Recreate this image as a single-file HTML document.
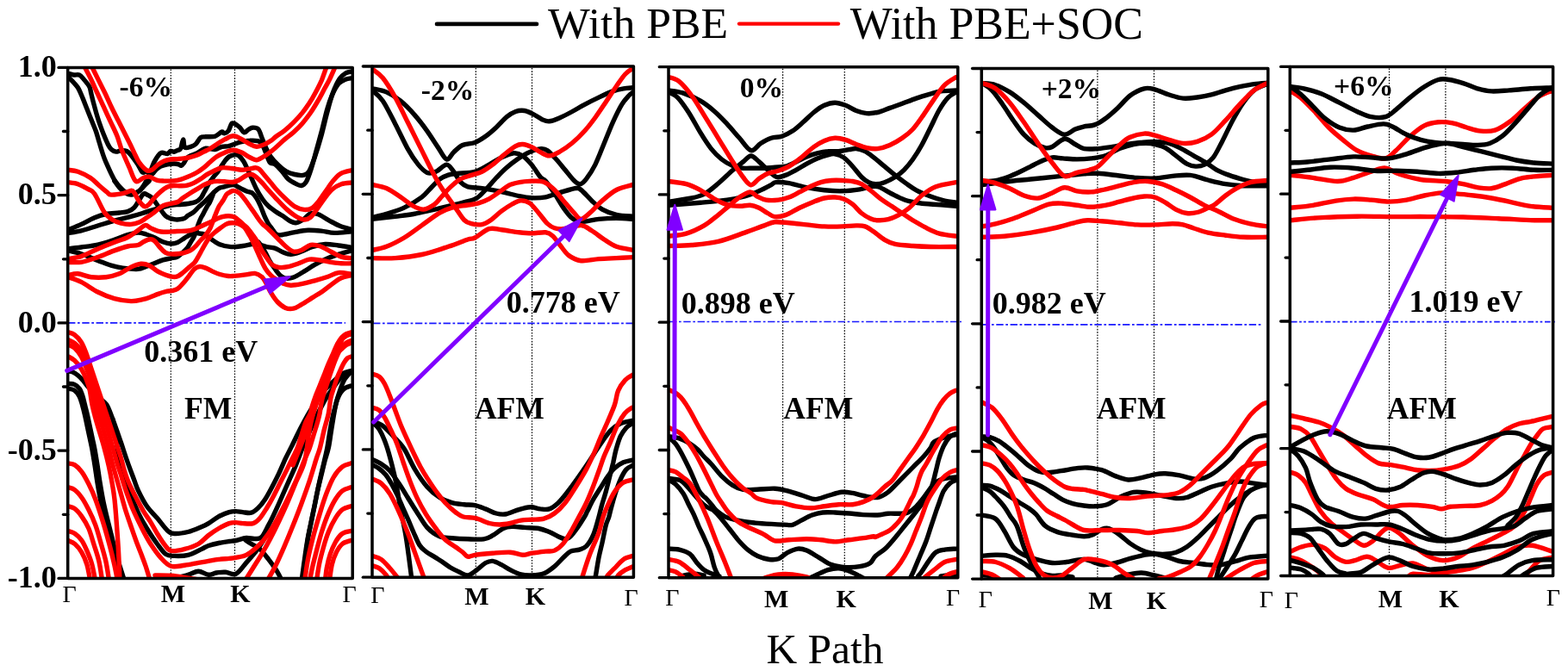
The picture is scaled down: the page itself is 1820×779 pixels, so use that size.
<!DOCTYPE html><html><head><meta charset="utf-8"><style>html,body{margin:0;padding:0;background:#fff;width:1820px;height:779px;overflow:hidden}svg{display:block}text{font-family:"Liberation Serif","Times New Roman",serif}</style></head><body>
<svg xmlns="http://www.w3.org/2000/svg" width="1820" height="779" viewBox="0 0 1820 779">
<rect width="1820" height="779" fill="#fff"/>
<defs>
<clipPath id="c0"><rect x="78.7" y="78.4" width="330.5" height="593.0"/></clipPath>
<clipPath id="c1"><rect x="432.0" y="77.0" width="303.4" height="593.2"/></clipPath>
<clipPath id="c2"><rect x="776.0" y="77.7" width="335.79999999999995" height="593.0"/></clipPath>
<clipPath id="c3"><rect x="1139.3" y="79.5" width="332.5" height="592.6"/></clipPath>
<clipPath id="c4"><rect x="1497.3" y="77.4" width="305.29999999999995" height="591.1"/></clipPath>
</defs>
<line x1="198.3" y1="80.4" x2="198.3" y2="669.4" stroke="#000" stroke-width="1.2" stroke-dasharray="1.6,1.7"/>
<line x1="272.5" y1="80.4" x2="272.5" y2="669.4" stroke="#000" stroke-width="1.2" stroke-dasharray="1.6,1.7"/>
<line x1="79" y1="374.9" x2="401" y2="374.9" stroke="#1a1aff" stroke-width="1.7" stroke-dasharray="8.4,2.6,2.7,2.6"/>
<line x1="552.3" y1="79.0" x2="552.3" y2="668.2" stroke="#000" stroke-width="1.2" stroke-dasharray="1.6,1.7"/>
<line x1="617.5" y1="79.0" x2="617.5" y2="668.2" stroke="#000" stroke-width="1.2" stroke-dasharray="1.6,1.7"/>
<line x1="433" y1="375.3" x2="736" y2="375.3" stroke="#1a1aff" stroke-width="1.7" stroke-dasharray="8.4,2.6,2.7,2.6"/>
<line x1="908.6" y1="79.7" x2="908.6" y2="668.7" stroke="#000" stroke-width="1.2" stroke-dasharray="1.6,1.7"/>
<line x1="980.3" y1="79.7" x2="980.3" y2="668.7" stroke="#000" stroke-width="1.2" stroke-dasharray="1.6,1.7"/>
<line x1="777" y1="373.5" x2="1116" y2="373.5" stroke="#1a1aff" stroke-width="1.7" stroke-dasharray="8.4,2.6,2.7,2.6"/>
<line x1="1273.9" y1="81.5" x2="1273.9" y2="670.1" stroke="#000" stroke-width="1.2" stroke-dasharray="1.6,1.7"/>
<line x1="1339.5" y1="81.5" x2="1339.5" y2="670.1" stroke="#000" stroke-width="1.2" stroke-dasharray="1.6,1.7"/>
<line x1="1140" y1="376.8" x2="1464" y2="376.8" stroke="#1a1aff" stroke-width="1.7" stroke-dasharray="8.4,2.6,2.7,2.6"/>
<line x1="1612.5" y1="79.4" x2="1612.5" y2="666.5" stroke="#000" stroke-width="1.2" stroke-dasharray="1.6,1.7"/>
<line x1="1677.9" y1="79.4" x2="1677.9" y2="666.5" stroke="#000" stroke-width="1.2" stroke-dasharray="1.6,1.7"/>
<line x1="1499" y1="373.6" x2="1807" y2="373.6" stroke="#1a1aff" stroke-width="1.7" stroke-dasharray="6.6,2.5,2.7,2.4,2.7,2.7"/>
<g clip-path="url(#c0)" fill="none" stroke-width="5.4" stroke-linecap="round" stroke-linejoin="round">
<path d="M79.8,90.0C80.8,91.0 83.9,93.9 85.7,96.0C87.5,98.1 89.1,99.4 90.8,102.4C92.5,105.4 94.3,109.8 96.0,113.9C97.7,118.0 99.4,122.5 101.1,126.8C102.8,131.1 104.5,135.3 106.2,139.6C107.9,143.9 109.9,148.2 111.4,152.5C112.9,156.8 113.9,161.1 115.2,165.3C116.5,169.6 117.8,174.1 119.1,178.0C120.4,181.9 120.8,183.5 123.1,188.6C125.4,193.7 129.6,203.5 132.8,208.8C136.0,214.1 139.6,217.7 142.4,220.4C145.2,223.1 146.7,224.9 149.9,225.2C153.1,225.4 158.2,224.2 161.4,221.9C164.6,219.6 166.9,215.2 169.1,211.5C171.2,207.8 172.6,204.1 174.3,200.0C176.0,195.9 177.4,190.9 179.5,187.2C181.6,183.5 184.1,179.1 186.6,177.7C189.1,176.2 192.4,178.9 194.3,178.5C196.2,178.1 196.8,175.8 198.1,175.4C199.4,175.0 200.7,176.3 202.0,176.2C203.3,176.1 204.5,175.2 205.8,174.6C207.1,174.0 208.6,174.6 209.7,172.5C210.8,170.4 211.8,162.2 212.6,162.0C213.4,161.8 213.1,169.6 214.5,171.0C215.9,172.4 219.2,170.9 221.3,170.3C223.4,169.7 225.2,169.2 227.1,167.4C229.0,165.6 231.0,161.1 232.9,159.7C234.8,158.3 235.9,159.1 238.7,158.8C241.5,158.6 246.6,159.2 249.7,158.2C252.8,157.2 255.6,153.6 257.4,153.0C259.2,152.4 259.0,155.1 260.3,154.9C261.6,154.7 263.7,153.9 265.1,152.0C266.6,150.1 267.6,144.6 269.0,143.3C270.4,142.0 272.2,143.5 273.8,144.3C275.4,145.1 277.0,146.6 278.6,148.2C280.2,149.8 281.8,153.5 283.4,153.9C285.0,154.3 286.6,151.4 288.2,150.5C289.8,149.6 291.1,148.3 293.0,148.2C294.9,148.1 297.9,147.9 299.8,150.1C301.7,152.3 303.0,157.8 304.6,161.6C306.2,165.4 307.8,169.8 309.4,173.2C311.0,176.6 311.9,178.8 314.2,181.9C316.4,185.0 319.8,188.6 322.9,191.5C325.9,194.4 329.3,197.4 332.5,199.2C335.7,201.0 338.9,201.8 342.1,202.5C345.3,203.2 349.0,204.0 351.7,203.4C354.4,202.8 356.2,202.6 358.5,199.2C360.8,195.8 362.8,189.7 365.2,182.8C367.6,175.9 370.5,166.5 372.9,157.8C375.3,149.1 377.4,139.2 379.7,130.8C381.9,122.5 384.0,114.3 386.4,107.7C388.8,101.1 391.5,95.2 394.1,91.4C396.7,87.6 399.5,86.0 401.8,84.6C404.1,83.2 407.0,83.3 408.0,83.1" stroke="#000000"/>
<path d="M79.8,85.5C80.8,85.8 83.7,86.8 85.7,87.0C87.8,87.2 90.2,86.2 92.1,87.0C94.0,87.8 95.4,89.8 97.3,92.1C99.2,94.3 102.3,97.9 103.7,100.5C105.1,103.1 104.8,104.2 105.6,107.5C106.4,110.8 107.6,115.9 108.8,120.4C110.0,124.9 111.4,130.2 112.7,134.5C114.0,138.8 115.2,142.4 116.5,146.0C117.8,149.6 118.9,152.7 120.4,156.3C121.9,160.0 124.0,165.0 125.5,167.9C127.0,170.8 127.8,172.1 129.3,173.5C130.8,174.9 132.8,175.9 134.7,176.1C136.6,176.3 138.4,174.8 140.5,174.7C142.6,174.6 145.3,174.6 147.2,175.5C149.1,176.4 149.9,177.4 152.0,179.9C154.1,182.4 157.5,187.2 159.7,190.5C161.9,193.8 163.6,198.6 165.3,200.0C167.0,201.4 168.4,198.5 170.0,199.0C171.6,199.5 173.1,203.4 175.0,203.1C176.9,202.8 179.3,198.7 181.2,197.0C183.1,195.3 184.4,194.1 186.6,193.1C188.8,192.1 191.7,191.3 194.3,190.8C196.9,190.3 199.8,190.0 202.0,190.0C204.2,190.0 206.0,190.4 207.4,190.8C208.8,191.2 209.4,192.6 210.4,192.3C211.4,192.1 212.5,190.7 213.5,189.3C214.5,187.9 215.3,185.3 216.6,183.9C217.9,182.5 219.1,181.8 221.2,180.8C223.2,179.8 226.0,179.1 228.9,177.7C231.8,176.3 235.2,172.9 238.7,172.2C242.2,171.5 246.6,173.9 249.7,173.6C252.8,173.3 254.8,171.0 257.4,170.3C260.0,169.7 262.5,170.2 265.1,169.7C267.7,169.1 270.2,167.9 272.8,167.0C275.4,166.1 277.6,165.1 280.5,164.5C283.4,163.9 287.1,163.3 290.1,163.2C293.2,163.0 296.6,163.0 298.8,163.6C301.1,164.2 302.0,164.3 303.6,166.5C305.2,168.7 306.8,173.3 308.4,177.0C310.0,180.7 311.4,186.3 313.2,188.6C315.0,190.8 316.8,188.9 319.0,190.5C321.2,192.1 324.1,195.3 326.7,198.2C329.3,201.1 331.8,205.4 334.4,207.8C337.0,210.2 339.5,211.4 342.1,212.7C344.7,214.0 347.6,215.8 349.8,215.5C352.1,215.2 353.7,214.1 355.6,210.7C357.5,207.3 359.5,201.2 361.4,195.3C363.3,189.4 365.0,182.6 367.1,175.1C369.2,167.6 371.8,158.1 373.9,150.1C376.0,142.1 377.8,133.6 379.7,127.0C381.6,120.4 383.2,115.6 385.4,110.6C387.6,105.6 390.5,100.1 393.1,97.1C395.7,94.0 398.3,93.3 400.8,92.3C403.3,91.2 406.8,91.0 408.0,90.8" stroke="#000000"/>
<path d="M132.8,210.0C133.8,211.3 136.3,215.3 138.5,217.7C140.7,220.1 143.6,223.1 146.2,224.4C148.8,225.8 151.3,226.3 153.9,225.8C156.5,225.3 159.0,223.6 161.6,221.6C164.2,219.6 167.4,215.8 169.3,213.9C171.2,212.0 172.5,210.7 173.2,210.0" stroke="#000000"/>
<path d="M78.9,266.8C81.5,265.7 89.2,262.8 94.3,260.4C99.4,258.0 104.9,254.7 109.7,252.7C114.5,250.7 118.3,249.4 123.1,248.5C127.9,247.6 134.3,247.5 138.5,247.0C142.7,246.5 145.3,246.6 148.2,245.6C151.1,244.6 153.7,243.1 155.9,240.8C158.1,238.6 159.8,234.7 161.6,232.1C163.4,229.5 165.0,225.9 166.6,225.0C168.2,224.1 169.6,225.5 171.3,226.4C173.0,227.3 174.8,227.8 177.0,230.2C179.2,232.6 182.1,237.4 184.7,240.8C187.3,244.2 189.5,248.5 192.4,250.8C195.3,253.1 198.9,254.2 202.3,254.7C205.7,255.2 210.4,254.6 213.0,253.9C215.6,253.2 216.0,251.7 218.0,250.3C220.0,249.0 223.1,247.5 225.2,245.8C227.3,244.2 228.8,242.0 230.5,240.4C232.2,238.8 233.6,237.8 235.5,236.1C237.4,234.3 239.6,232.0 241.7,229.9C243.8,227.8 245.8,225.6 247.9,223.7C250.0,221.8 251.8,219.8 254.0,218.6C256.2,217.4 258.8,217.2 261.2,216.6C263.6,216.0 266.2,215.2 268.1,214.9C270.0,214.6 270.8,214.4 272.4,214.9C273.9,215.4 275.1,216.5 277.4,217.7C279.7,218.9 283.6,220.9 286.2,222.0C288.8,223.1 291.2,223.0 293.1,224.3C295.0,225.7 296.2,227.6 297.8,230.1C299.4,232.6 300.9,235.8 302.4,239.3C303.9,242.8 305.5,247.5 307.0,250.9C308.5,254.3 310.2,257.6 311.6,260.0C313.0,262.4 313.9,263.0 315.4,265.0C316.9,267.0 318.9,270.8 320.8,272.1C322.7,273.4 323.1,273.1 326.7,272.7C330.2,272.3 337.0,270.5 342.1,269.6C347.2,268.7 352.4,267.6 357.5,267.3C362.6,267.1 367.8,267.6 372.9,268.1C378.0,268.6 382.5,270.3 388.3,270.4C394.1,270.5 404.3,269.1 407.5,268.9" stroke="#000000"/>
<path d="M78.9,270.6C81.5,270.1 88.5,269.2 94.3,267.8C100.1,266.4 107.1,263.9 113.5,262.0C119.9,260.1 126.4,258.0 132.8,256.2C139.2,254.4 146.6,252.8 152.0,251.4C157.4,250.0 161.7,248.7 165.5,247.5C169.3,246.3 171.0,245.5 175.1,244.3C179.2,243.1 185.8,241.4 189.9,240.3C194.1,239.2 196.8,238.5 200.0,238.0C203.2,237.5 206.0,237.8 209.0,237.5C212.0,237.2 215.0,237.0 218.0,236.5C221.0,236.0 224.5,235.6 227.0,234.5C229.5,233.4 231.4,231.8 233.0,230.0C234.6,228.2 235.4,225.9 236.5,224.0C237.6,222.1 238.5,220.4 239.5,218.5C240.5,216.6 241.3,214.7 242.7,212.5C244.1,210.3 246.2,207.5 247.9,205.3C249.6,203.1 251.6,201.1 253.0,199.1C254.4,197.1 255.2,195.6 256.6,193.5C258.0,191.4 259.7,188.5 261.2,186.6C262.7,184.7 263.9,183.1 265.8,181.9C267.7,180.7 270.5,179.8 272.4,179.6C274.3,179.4 275.3,179.2 277.0,180.5C278.7,181.8 281.0,184.6 282.7,187.3C284.4,190.0 285.8,193.3 287.4,196.6C288.9,199.9 290.3,203.2 292.0,207.0C293.7,210.8 295.7,215.7 297.8,219.7C299.9,223.7 302.4,227.9 304.7,231.2C307.0,234.5 308.9,236.8 311.6,239.3C314.3,241.8 318.2,244.3 320.9,246.2C323.6,248.1 325.3,248.8 328.0,250.6C330.7,252.4 334.2,255.5 336.9,256.8C339.6,258.1 341.4,259.1 344.1,258.6C346.8,258.2 350.4,255.9 353.1,254.1C355.8,252.3 357.6,248.8 360.3,247.9C363.0,247.0 365.7,247.5 369.3,248.8C372.9,250.1 377.6,253.7 381.8,255.9C386.0,258.1 389.9,260.4 394.4,262.2C398.9,264.0 406.4,265.9 408.8,266.7" stroke="#000000"/>
<path d="M78.9,288.9C81.5,288.6 88.5,287.8 94.3,287.0C100.1,286.2 107.1,285.6 113.5,284.1C119.9,282.7 127.0,280.2 132.8,278.3C138.6,276.4 143.6,274.0 148.2,272.6C152.8,271.2 156.5,270.2 160.1,270.1C163.7,270.0 166.3,271.1 169.5,272.0C172.7,272.9 175.9,274.4 179.2,275.8C182.4,277.2 185.8,279.5 189.0,280.7C192.2,281.9 195.6,282.9 198.4,283.0C201.2,283.1 203.5,282.5 206.1,281.4C208.7,280.3 211.2,278.2 213.8,276.6C216.4,275.0 219.2,273.1 221.5,272.0C223.8,270.9 225.9,270.3 227.5,270.1C229.1,269.9 229.5,270.7 231.1,271.0C232.7,271.3 234.8,271.1 236.9,272.0C239.0,272.9 240.8,274.7 243.7,276.6C246.6,278.5 250.2,281.8 254.3,283.5C258.4,285.2 263.6,286.3 268.2,286.6C272.8,286.9 277.6,286.1 282.0,285.5C286.4,284.9 291.0,283.4 294.4,283.2C297.8,283.0 299.5,283.7 302.1,284.3C304.7,284.9 307.0,286.0 309.8,286.6C312.6,287.2 315.9,287.1 319.0,288.1C322.1,289.1 325.1,291.5 328.2,292.7C331.3,293.9 333.9,295.4 337.5,295.3C341.1,295.2 345.7,293.4 349.8,292.0C353.9,290.6 357.5,288.0 362.1,286.6C366.7,285.2 372.4,283.8 377.5,283.5C382.6,283.2 387.9,284.4 392.9,285.0C397.9,285.6 405.1,286.9 407.5,287.3" stroke="#000000"/>
<path d="M78.9,290.9C81.5,291.5 88.5,292.8 94.3,294.7C100.1,296.6 107.7,300.1 113.5,302.4C119.3,304.6 124.1,306.8 128.9,308.2C133.7,309.6 137.2,310.4 142.4,311.1C147.6,311.8 155.6,312.7 160.1,312.4C164.6,312.1 166.3,310.6 169.5,309.5C172.7,308.4 175.9,307.0 179.2,305.7C182.4,304.4 185.8,302.8 189.0,301.8C192.2,300.8 195.6,300.5 198.4,299.9C201.2,299.3 203.8,299.1 206.1,298.0C208.4,296.9 210.2,295.0 212.1,293.2C214.0,291.4 216.1,289.4 217.7,287.4C219.3,285.4 220.3,283.1 221.5,281.0C222.7,278.9 224.0,277.0 225.0,275.0C226.0,273.0 226.7,271.3 227.5,269.0C228.3,266.7 229.1,263.6 230.0,261.0C230.9,258.4 232.1,255.5 233.0,253.5C233.9,251.5 234.6,250.8 235.5,249.0C236.4,247.2 237.8,244.6 238.6,243.0C239.4,241.4 239.7,240.8 240.5,239.5C241.3,238.2 242.5,236.8 243.4,235.0C244.3,233.2 245.2,230.9 246.0,229.0C246.8,227.1 247.6,224.6 247.9,223.7" stroke="#000000"/>
<path d="M300.0,281.0C300.6,281.8 302.2,283.7 303.6,285.8C305.0,287.9 306.7,290.7 308.2,293.5C309.7,296.3 311.0,299.6 312.8,302.7C314.6,305.8 316.9,309.2 319.0,312.0C321.1,314.8 323.1,317.8 325.2,319.7C327.2,321.6 328.7,322.7 331.3,323.1C333.9,323.5 337.0,323.3 340.6,322.0C344.2,320.7 348.8,317.5 352.9,315.1C357.0,312.7 360.6,310.0 365.2,307.4C369.8,304.8 375.5,301.9 380.6,299.7C385.7,297.5 391.5,295.7 396.0,294.3C400.5,292.9 405.6,291.7 407.5,291.2" stroke="#000000"/>
<path d="M98.3,77.9C99.4,80.1 102.6,85.9 105.0,90.8C107.4,95.7 110.1,101.9 112.7,107.5C115.3,113.1 117.8,118.6 120.4,124.2C123.0,129.8 125.5,135.3 128.1,140.9C130.7,146.5 133.7,152.2 135.8,157.6C137.9,162.9 139.3,168.6 140.9,173.0C142.5,177.4 144.0,180.4 145.5,184.0C147.0,187.6 148.1,190.0 150.1,194.4C152.1,198.8 154.8,208.3 157.6,210.3C160.3,212.3 164.0,207.3 166.6,206.5C169.2,205.7 170.3,204.7 173.0,205.2C175.7,205.7 179.8,208.5 182.7,209.3C185.6,210.1 187.8,210.0 190.4,210.1C193.0,210.2 195.5,210.2 198.1,210.1C200.7,210.0 203.2,209.8 205.8,209.3C208.4,208.8 210.9,207.9 213.5,207.0C216.1,206.1 218.6,205.1 221.2,203.9C223.8,202.7 226.3,201.5 228.9,200.0C231.5,198.5 234.0,196.8 236.6,194.7C239.2,192.6 241.7,189.9 244.3,187.7C246.9,185.5 249.2,183.4 252.0,181.6C254.8,179.8 258.2,178.2 261.3,177.0C264.4,175.8 267.7,174.2 270.9,174.2C274.1,174.2 277.3,175.6 280.5,177.0C283.7,178.4 287.2,181.4 290.1,182.8C293.0,184.2 294.9,186.0 297.8,185.7C300.7,185.4 304.0,183.2 307.5,180.9C311.0,178.7 315.2,175.4 319.0,172.2C322.8,169.0 326.7,165.0 330.3,161.9C333.9,158.8 337.1,156.8 340.5,153.7C343.9,150.6 347.4,147.3 350.8,143.4C354.2,139.5 358.0,134.4 361.1,130.0C364.2,125.5 366.7,121.2 369.3,116.7C371.9,112.2 374.3,107.4 376.5,103.3C378.7,99.2 380.6,96.1 382.6,92.1C384.6,88.0 387.5,81.2 388.5,79.0" stroke="#ff0000"/>
<path d="M106.9,77.9C108.1,80.3 111.5,87.2 113.9,92.1C116.4,97.0 119.0,102.2 121.6,107.5C124.2,112.8 126.7,118.9 129.3,124.2C131.9,129.6 134.4,134.5 137.0,139.6C139.6,144.7 142.2,149.9 144.8,155.0C147.4,160.1 150.5,166.2 152.5,170.4C154.5,174.6 155.5,177.0 157.0,180.0C158.5,183.0 159.3,185.6 161.6,188.6C163.8,191.6 168.0,196.4 170.5,197.8C173.0,199.2 174.8,197.9 176.8,196.9C178.8,195.9 180.4,193.3 182.7,191.6C185.0,189.9 187.8,188.0 190.4,186.9C193.0,185.8 195.5,185.4 198.1,185.0C200.7,184.6 203.2,184.8 205.8,184.6C208.4,184.4 210.9,184.3 213.5,183.9C216.1,183.5 218.6,183.0 221.2,182.3C223.8,181.7 226.3,181.0 228.9,180.0C231.5,179.0 234.0,177.5 236.6,176.2C239.2,174.9 241.8,173.8 244.3,172.3C246.8,170.8 248.8,169.2 251.6,167.4C254.4,165.6 258.1,163.2 261.3,161.6C264.5,160.0 267.7,157.8 270.9,157.8C274.1,157.8 277.3,160.0 280.5,161.6C283.7,163.2 287.2,165.9 290.1,167.4C293.0,168.9 294.9,170.3 297.8,170.3C300.7,170.3 304.6,168.6 307.5,167.4C310.4,166.2 312.9,164.4 315.0,163.0C317.1,161.6 317.4,160.7 320.0,158.8C322.6,156.9 326.9,154.3 330.3,151.6C333.7,148.9 337.1,145.8 340.5,142.4C343.9,139.0 347.7,134.9 350.8,131.1C353.9,127.3 356.4,123.7 359.0,119.8C361.6,115.9 363.8,112.0 366.2,107.5C368.6,103.0 371.3,97.8 373.4,93.1C375.4,88.3 377.6,81.3 378.5,79.0" stroke="#ff0000"/>
<path d="M78.9,197.3C80.8,197.6 86.1,197.7 90.4,199.2C94.8,200.7 100.9,203.8 105.0,206.5C109.1,209.2 112.0,212.7 115.2,215.5C118.4,218.3 122.0,221.4 124.3,223.2C126.6,225.0 125.7,225.9 128.9,226.1C132.1,226.3 139.6,225.2 143.5,224.4C147.4,223.6 150.5,221.2 152.6,221.2C154.7,221.2 154.7,222.3 156.2,224.4C157.7,226.5 159.4,230.9 161.4,233.5C163.4,236.1 166.1,239.2 168.0,239.8C169.9,240.4 171.2,238.9 173.0,237.3C174.8,235.7 176.6,232.5 178.9,230.0C181.2,227.5 184.0,224.6 186.6,222.4C189.2,220.2 191.7,218.2 194.3,217.0C196.9,215.8 199.4,215.7 202.0,215.5C204.6,215.3 207.1,215.9 209.7,215.8C212.3,215.7 214.8,215.7 217.4,215.1C220.0,214.5 222.5,213.6 225.1,212.4C227.7,211.2 230.2,209.5 232.8,207.8C235.4,206.1 237.9,204.0 240.5,202.4C243.1,200.8 245.4,199.8 248.2,198.5C251.0,197.2 253.9,195.3 257.3,194.8C260.8,194.3 265.0,195.1 268.9,195.5C272.8,195.9 277.1,197.1 280.4,197.2C283.7,197.3 285.8,196.6 288.5,196.2C291.2,195.8 294.5,194.7 296.6,194.8C298.7,194.9 299.5,195.2 301.2,196.6C302.9,198.0 304.9,201.0 307.0,203.5C309.1,206.0 311.6,208.8 313.9,211.6C316.2,214.3 317.9,216.8 320.8,220.0C323.7,223.2 327.9,227.5 331.5,230.8C335.1,234.1 338.7,237.7 342.3,239.8C345.9,241.9 349.8,243.1 353.1,243.4C356.4,243.7 359.4,243.1 362.1,241.6C364.8,240.1 366.6,237.7 369.3,234.4C372.0,231.1 375.2,226.0 378.2,221.8C381.2,217.6 384.2,212.7 387.2,209.3C390.2,205.9 392.6,203.1 396.2,201.2C399.8,199.2 406.7,198.2 408.8,197.6" stroke="#ff0000"/>
<path d="M78.9,211.7C80.8,212.0 86.6,212.4 90.4,213.7C94.2,215.0 98.8,217.5 102.0,219.4C105.2,221.3 106.5,220.5 109.7,225.0C112.9,229.5 117.7,241.6 121.2,246.6C124.7,251.6 127.6,253.1 130.8,255.2C134.0,257.3 137.0,258.2 140.5,259.1C144.0,260.0 148.5,260.6 152.0,260.4C155.5,260.2 158.7,259.3 161.6,258.1C164.5,256.9 166.4,255.2 169.3,253.3C172.2,251.4 175.6,249.1 179.0,246.6C182.4,244.1 185.4,240.5 189.9,238.5C194.4,236.5 202.2,236.0 205.9,234.6C209.6,233.2 209.4,231.8 212.0,230.0C214.6,228.2 218.4,225.7 221.2,223.9C224.0,222.1 226.3,220.8 228.9,219.3C231.5,217.8 234.0,216.0 236.6,214.7C239.2,213.4 241.7,212.3 244.3,211.6C246.9,210.9 249.2,210.5 252.0,210.4C254.8,210.3 257.8,210.6 260.8,210.8C263.8,211.0 267.3,211.8 270.0,211.5C272.7,211.2 274.3,210.6 277.0,209.3C279.7,208.0 283.7,204.7 286.2,203.5C288.7,202.3 290.1,201.9 292.0,202.3C293.9,202.7 295.7,204.1 297.8,205.8C299.9,207.5 302.4,210.2 304.7,212.7C307.0,215.2 308.9,217.8 311.6,220.8C314.3,223.8 317.2,227.0 320.8,230.8C324.4,234.6 329.4,240.0 333.3,243.4C337.2,246.8 340.8,249.6 344.1,251.5C347.4,253.4 350.4,254.8 353.1,255.0C355.8,255.2 357.9,254.3 360.3,252.4C362.7,250.5 364.8,247.0 367.5,243.4C370.2,239.8 373.4,234.7 376.4,230.8C379.4,226.9 382.1,222.8 385.4,220.0C388.7,217.2 392.3,215.0 396.2,213.7C400.1,212.4 406.7,212.3 408.8,212.0" stroke="#ff0000"/>
<path d="M78.9,300.5C81.5,300.0 88.5,299.5 94.3,297.6C100.1,295.7 107.1,291.6 113.5,288.9C119.9,286.2 127.0,283.4 132.8,281.2C138.6,279.0 143.7,277.7 148.2,275.5C152.7,273.3 156.3,270.1 159.7,267.8C163.1,265.5 165.8,262.1 168.4,261.6C171.0,261.1 172.7,263.8 175.1,264.9C177.5,266.0 180.3,267.4 182.8,268.1C185.3,268.8 186.2,269.2 189.9,269.3C193.7,269.4 200.6,268.7 205.3,268.5C210.0,268.3 214.6,268.4 218.0,268.0C221.4,267.6 223.2,267.0 226.0,266.0C228.8,265.0 232.0,263.4 235.0,262.0C238.0,260.6 241.2,259.2 244.0,257.9C246.8,256.6 249.2,255.1 251.6,254.0C254.0,252.9 256.0,252.2 258.3,251.6C260.6,251.0 263.2,250.6 265.5,250.7C267.8,250.8 269.9,251.0 272.0,252.0C274.1,253.0 276.2,255.0 278.1,256.6C280.0,258.2 281.8,259.9 283.5,261.5C285.2,263.1 286.6,264.2 288.2,266.0C289.8,267.8 291.0,269.5 292.8,272.0C294.6,274.5 297.2,277.9 299.0,281.0C300.8,284.1 301.8,287.3 303.6,290.4C305.4,293.5 307.8,296.9 309.8,299.7C311.9,302.5 313.6,305.6 315.9,307.4C318.2,309.2 320.5,310.0 323.6,310.4C326.7,310.8 330.5,310.5 334.4,309.7C338.2,308.9 342.6,307.2 346.7,305.8C350.8,304.4 354.9,301.8 359.0,301.2C363.1,300.6 367.3,301.5 371.4,302.0C375.5,302.5 379.6,303.7 383.7,304.3C387.8,304.9 392.0,305.6 396.0,305.8C400.0,306.1 405.6,305.8 407.5,305.8" stroke="#ff0000"/>
<path d="M78.9,304.3C81.5,304.3 88.5,305.2 94.3,304.3C100.1,303.4 107.1,300.8 113.5,298.6C119.9,296.4 127.0,293.0 132.8,290.9C138.6,288.8 143.6,287.1 148.2,286.0C152.8,284.9 157.0,285.4 160.1,284.5C163.2,283.6 164.2,281.8 166.6,280.7C169.0,279.6 172.2,278.0 174.3,277.8C176.4,277.6 177.4,278.1 179.2,279.5C181.0,280.9 182.8,284.1 184.9,286.4C187.0,288.7 189.7,291.8 191.9,293.2C194.2,294.6 195.7,294.7 198.4,294.9C201.1,295.1 205.4,294.8 208.0,294.5C210.6,294.2 211.8,294.0 214.0,293.4C216.2,292.8 218.9,292.0 221.2,290.7C223.4,289.4 225.6,287.2 227.5,285.3C229.4,283.4 231.1,280.9 232.9,279.0C234.7,277.1 236.4,275.9 238.2,273.6C240.0,271.3 242.0,268.9 243.9,265.0C245.8,261.1 248.0,254.3 249.7,250.1C251.4,245.9 252.5,242.9 254.0,240.0C255.5,237.1 257.4,235.2 258.9,232.8C260.4,230.4 261.8,227.1 263.1,225.5C264.5,223.9 265.6,223.7 267.0,223.0C268.4,222.3 269.3,221.2 271.2,221.4C273.1,221.6 276.0,222.7 278.1,224.3C280.2,225.9 282.0,228.7 283.9,231.2C285.8,233.7 287.8,236.6 289.7,239.3C291.6,242.0 293.8,244.9 295.5,247.4C297.2,249.9 298.6,252.2 300.1,254.3C301.6,256.4 302.8,258.1 304.7,260.0C306.6,261.9 308.4,263.0 311.3,265.8C314.2,268.6 318.8,273.3 322.1,276.6C325.4,279.9 328.2,283.2 331.3,285.8C334.4,288.4 337.5,291.2 340.6,292.0C343.7,292.8 346.5,291.7 349.8,290.4C353.1,289.1 357.0,285.1 360.6,284.3C364.2,283.5 367.5,284.5 371.3,285.8C375.1,287.1 379.6,289.9 383.7,292.0C387.8,294.1 392.0,296.8 396.0,298.1C400.0,299.4 405.6,299.4 407.5,299.7" stroke="#ff0000"/>
<path d="M78.9,319.7C80.8,319.4 85.9,317.5 90.4,317.8C94.9,318.1 100.3,321.1 105.8,321.7C111.2,322.3 117.6,322.3 123.1,321.7C128.5,321.1 133.7,319.7 138.5,317.8C143.3,315.9 147.8,312.0 152.0,310.1C156.2,308.2 160.1,306.6 163.6,306.3C167.1,306.0 170.0,306.8 173.2,308.2C176.4,309.6 179.7,313.1 182.8,314.9C185.9,316.7 189.2,318.1 191.8,319.1C194.4,320.1 196.2,320.6 198.4,321.0C200.6,321.4 202.7,321.9 205.0,321.2C207.3,320.5 209.8,318.5 212.2,316.7C214.6,314.9 217.2,312.3 219.4,310.4C221.7,308.4 223.9,307.1 225.7,305.0C227.5,302.9 228.7,300.4 230.2,297.9C231.7,295.4 233.1,292.5 234.6,289.8C236.1,287.1 237.6,284.1 239.1,281.7C240.6,279.3 241.9,277.3 243.6,275.4C245.2,273.4 247.0,271.7 249.0,270.0C251.0,268.3 253.2,266.6 255.4,265.0C257.6,263.4 260.2,261.5 262.0,260.5C263.8,259.5 264.4,259.3 266.0,259.0C267.6,258.7 269.4,258.6 271.3,258.8C273.2,259.0 275.3,259.1 277.4,260.0C279.4,260.9 281.6,261.8 283.6,264.0C285.7,266.2 287.6,269.9 289.7,273.5C291.8,277.1 293.8,281.4 295.9,285.8C298.0,290.2 300.1,295.3 302.1,299.7C304.2,304.1 306.1,308.7 308.2,312.0C310.2,315.3 312.3,317.6 314.4,319.7C316.4,321.8 318.2,322.8 320.5,324.3C322.8,325.8 325.4,327.8 328.2,328.9C331.0,330.0 333.9,331.1 337.5,331.2C341.1,331.3 345.2,330.6 349.8,329.7C354.4,328.8 360.1,327.2 365.2,325.8C370.3,324.4 376.0,322.7 380.6,321.2C385.2,319.7 388.4,317.1 392.9,316.6C397.4,316.1 405.1,317.9 407.5,318.1" stroke="#ff0000"/>
<path d="M78.9,321.7C81.5,322.6 88.5,324.5 94.3,327.4C100.1,330.3 107.1,335.8 113.5,339.0C119.9,342.2 126.4,344.9 132.8,346.7C139.2,348.5 146.6,349.4 152.0,349.6C157.4,349.8 161.8,348.5 165.5,347.7C169.2,346.9 171.2,346.1 174.3,345.0C177.4,343.9 180.9,342.2 184.2,341.1C187.4,340.0 191.1,338.8 193.8,338.2C196.5,337.6 198.2,337.8 200.3,337.3C202.4,336.8 204.1,336.6 206.1,335.3C208.1,334.0 210.0,331.8 212.2,329.3C214.4,326.8 217.2,323.2 219.4,320.3C221.7,317.4 223.6,314.0 225.7,312.2C227.8,310.4 229.8,309.6 232.0,309.5C234.2,309.4 236.7,310.4 239.1,311.3C241.5,312.2 243.6,313.7 246.3,314.9C249.0,316.1 252.2,317.6 255.3,318.5C258.4,319.4 262.3,320.2 265.0,320.5C267.7,320.8 267.9,320.7 271.3,320.4C274.7,320.1 281.0,319.4 285.1,318.9C289.2,318.4 292.8,317.0 295.9,317.4C299.0,317.8 301.6,319.5 303.6,321.2C305.7,322.9 306.4,324.3 308.2,327.4C310.0,330.5 312.1,335.8 314.4,339.7C316.7,343.6 319.3,347.6 322.1,350.5C324.9,353.4 328.2,356.1 331.3,357.4C334.4,358.7 337.5,358.8 340.6,358.2C343.7,357.6 346.2,355.7 349.8,353.6C353.4,351.6 358.0,348.5 362.1,345.9C366.2,343.3 370.3,341.0 374.4,338.2C378.5,335.4 383.1,331.5 386.7,328.9C390.3,326.3 392.5,324.3 396.0,322.8C399.5,321.3 405.6,320.2 407.5,319.7" stroke="#ff0000"/>
<path d="M78.9,431.0C79.9,431.2 82.7,431.2 84.6,432.0C86.5,432.8 88.5,434.2 90.4,435.8C92.3,437.4 94.3,439.4 96.2,441.6C98.1,443.8 100.0,446.8 102.0,449.0C104.0,451.2 106.0,453.0 108.0,455.0C110.0,457.0 112.0,459.2 114.0,461.0C116.0,462.8 118.2,464.2 120.0,466.0C121.8,467.8 123.2,468.5 125.0,472.0C126.8,475.5 129.2,482.2 131.0,487.0C132.8,491.8 134.3,496.2 136.0,501.0C137.7,505.8 139.4,510.8 141.2,516.0C142.9,521.2 144.8,527.0 146.5,532.0C148.2,537.0 149.9,541.7 151.5,546.0C153.1,550.3 154.5,554.0 156.0,558.0C157.5,562.0 158.2,564.8 160.6,569.8C163.0,574.8 166.8,582.4 170.5,587.7C174.2,593.0 178.5,596.9 182.5,601.6C186.5,606.3 191.1,613.0 194.4,616.0C197.7,619.0 198.4,619.2 202.4,619.5C206.4,619.8 213.0,618.8 218.3,617.5C223.6,616.2 230.2,613.2 234.2,611.6C238.1,610.0 238.7,609.6 242.0,607.6C245.3,605.6 249.9,601.8 253.9,599.6C257.9,597.4 262.6,595.6 265.9,594.6C269.2,593.6 271.1,593.6 273.8,593.6C276.5,593.6 278.8,594.3 281.8,594.6C284.8,594.9 288.8,596.0 291.8,595.2C294.8,594.4 297.1,592.3 299.7,589.7C302.3,587.1 305.0,583.7 307.7,579.7C310.4,575.7 313.0,570.8 315.6,565.8C318.2,560.8 320.9,555.5 323.6,549.9C326.3,544.2 329.2,537.1 331.6,531.9C334.1,526.7 335.4,524.4 338.3,518.6C341.2,512.8 345.7,503.4 348.8,497.3C351.9,491.2 354.3,486.8 357.0,482.0C359.7,477.2 362.5,472.8 365.2,468.6C367.9,464.4 370.3,460.4 373.0,457.0C375.7,453.6 378.8,450.8 381.6,448.0C384.4,445.2 387.3,442.4 390.0,440.0C392.7,437.6 395.1,435.3 398.0,433.7C400.9,432.1 406.0,431.0 407.6,430.5" stroke="#000000"/>
<path d="M78.9,445.5C80.2,445.6 84.4,445.4 86.6,446.4C88.8,447.3 90.7,448.9 92.3,451.2C93.9,453.5 95.0,456.9 96.0,460.0C97.0,463.1 97.6,466.3 98.5,470.0C99.4,473.7 100.5,477.7 101.5,482.0C102.5,486.3 103.5,491.3 104.5,496.0C105.5,500.7 106.6,505.7 107.5,510.0C108.4,514.3 109.1,517.0 110.0,522.0C110.9,527.0 112.0,533.7 113.0,540.0C114.0,546.3 114.9,553.3 116.0,560.0C117.1,566.7 118.2,573.3 119.5,580.0C120.8,586.7 122.4,593.3 124.0,600.0C125.6,606.7 127.3,613.3 129.0,620.0C130.7,626.7 132.3,633.8 134.0,640.0C135.7,646.2 137.2,651.2 139.0,657.0C140.8,662.8 143.8,672.0 144.7,675.0" stroke="#000000"/>
<path d="M78.9,451.2C80.2,451.5 84.4,451.7 86.6,453.2C88.8,454.7 90.5,457.2 92.0,460.0C93.5,462.8 94.4,466.3 95.5,470.0C96.6,473.7 97.5,477.7 98.5,482.0C99.5,486.3 100.5,491.3 101.5,496.0C102.5,500.7 103.6,505.7 104.5,510.0C105.4,514.3 106.1,517.0 107.0,522.0C107.9,527.0 109.0,533.7 110.0,540.0C111.0,546.3 111.9,553.3 113.0,560.0C114.1,566.7 115.2,573.3 116.5,580.0C117.8,586.7 119.4,593.3 121.0,600.0C122.6,606.7 124.3,613.3 126.0,620.0C127.7,626.7 129.3,633.8 131.0,640.0C132.7,646.2 134.2,651.2 136.0,657.0C137.8,662.8 140.6,672.0 141.5,675.0" stroke="#000000"/>
<path d="M140.7,545.9C142.3,550.2 147.3,563.5 150.6,571.8C153.9,580.1 157.3,588.6 160.6,595.6C163.9,602.6 166.8,607.5 170.5,613.5C174.2,619.5 178.8,626.5 182.5,631.5C186.2,636.5 189.1,641.1 192.4,643.4C195.7,645.7 198.1,645.2 202.4,645.4C206.7,645.6 213.0,645.7 218.3,644.4C223.6,643.1 230.2,639.2 234.2,637.4C238.1,635.6 238.7,634.6 242.0,633.5C245.3,632.4 249.9,631.3 253.9,630.5C257.9,629.7 262.6,629.0 265.9,628.5C269.2,628.0 270.5,628.2 273.8,627.5C277.1,626.8 282.2,624.8 285.8,624.5C289.4,624.2 292.7,625.7 295.7,625.5C298.7,625.3 301.0,626.1 303.7,623.5C306.4,620.9 309.0,614.6 311.7,609.6C314.4,604.6 317.0,599.2 319.6,593.6C322.2,588.0 325.0,581.7 327.6,575.7C330.2,569.7 332.9,563.8 335.5,557.8C338.1,551.8 340.8,546.4 343.5,539.9C346.2,533.4 349.4,524.4 351.7,518.6C354.0,512.8 355.2,510.2 357.5,505.1C359.8,500.0 362.6,493.2 365.2,487.8C367.8,482.4 370.3,477.2 372.9,472.4C375.5,467.6 377.7,463.4 380.6,458.9C383.5,454.4 387.3,449.4 390.2,445.5C393.1,441.6 395.1,438.0 398.0,435.8C400.9,433.6 406.0,433.1 407.6,432.5" stroke="#000000"/>
<path d="M131.0,487.0C131.5,490.0 133.0,498.7 134.0,505.0C135.0,511.3 135.9,518.2 137.0,525.0C138.1,531.8 140.1,542.4 140.7,545.9" stroke="#000000"/>
<path d="M200.0,672.0C203.1,671.2 213.2,668.8 218.3,667.3C223.4,665.8 226.4,663.3 230.3,663.3C234.2,663.3 238.6,667.0 242.0,667.3C245.4,667.6 247.7,665.5 251.0,665.0C254.3,664.5 258.1,664.1 261.9,664.3C265.7,664.5 269.8,668.1 273.8,666.3C277.8,664.5 281.8,657.9 285.8,653.4C289.8,648.9 294.4,643.7 297.7,639.4C301.0,635.1 304.4,629.5 305.7,627.5" stroke="#000000"/>
<path d="M285.0,627.0C286.1,627.8 289.0,629.8 291.8,631.5C294.6,633.2 298.4,634.4 301.7,637.4C305.0,640.4 308.4,645.1 311.7,649.4C315.0,653.7 319.0,659.0 321.6,663.3C324.2,667.6 326.6,673.0 327.6,675.0" stroke="#000000"/>
<path d="M407.6,431.3C406.2,433.0 401.5,437.7 399.3,441.6C397.1,445.5 395.7,450.2 394.2,454.5C392.7,458.8 391.4,463.1 390.3,467.3C389.2,471.6 388.8,474.6 387.8,480.0C386.8,485.4 385.6,493.3 384.5,500.0C383.4,506.7 382.6,514.2 381.3,520.0C380.1,525.8 378.3,530.0 377.0,535.0C375.7,540.0 374.7,544.4 373.4,549.9C372.1,555.4 370.3,562.0 369.0,568.0C367.7,574.0 366.6,579.5 365.4,585.7C364.1,591.9 362.8,598.4 361.5,605.0C360.2,611.6 358.6,618.0 357.4,625.5C356.2,633.0 355.5,641.8 354.5,650.0C353.5,658.2 352.0,670.8 351.5,675.0" stroke="#000000"/>
<path d="M407.0,448.0C405.9,448.4 402.5,449.3 400.6,450.6C398.7,451.9 397.0,453.6 395.5,455.7C394.0,457.8 392.7,460.6 391.6,463.4C390.5,466.2 389.9,469.3 389.0,472.4C388.1,475.5 387.5,477.4 386.5,482.0C385.5,486.6 384.1,493.7 383.0,500.0C381.9,506.3 381.0,513.8 379.8,520.0C378.6,526.2 377.2,531.7 376.0,537.0C374.8,542.3 373.6,546.5 372.4,552.0C371.1,557.5 369.8,564.0 368.5,570.0C367.2,576.0 366.2,581.8 364.9,588.0C363.6,594.2 362.2,600.5 360.9,607.0C359.6,613.5 358.1,619.8 356.9,627.0C355.6,634.2 354.5,642.0 353.4,650.0C352.2,658.0 350.6,670.8 350.0,675.0" stroke="#000000"/>
<path d="M78.9,385.8C80.2,386.3 84.0,386.8 86.6,388.7C89.2,390.6 92.1,393.8 94.3,397.3C96.5,400.9 98.2,405.4 100.0,410.0C101.8,414.6 103.3,420.0 105.0,425.0C106.7,430.0 108.3,435.0 110.0,440.0C111.7,445.0 113.3,450.0 115.0,455.0C116.7,460.0 118.3,465.0 120.0,470.0C121.7,475.0 123.3,480.0 125.0,485.0C126.7,490.0 128.3,495.0 130.0,500.0C131.7,505.0 133.3,510.0 135.0,515.0C136.7,520.0 138.5,525.0 140.0,530.0C141.5,535.0 142.7,540.5 144.0,545.0C145.3,549.5 146.5,553.2 148.0,557.0C149.5,560.8 151.2,564.3 153.0,568.0C154.8,571.7 156.3,574.7 158.6,579.0C160.9,583.3 163.9,589.2 166.6,593.6C169.2,598.0 171.8,601.3 174.5,605.6C177.2,609.9 179.8,615.2 182.5,619.5C185.2,623.8 187.8,628.2 190.4,631.5C193.1,634.8 194.4,638.4 198.4,639.4C202.4,640.4 209.0,638.7 214.3,637.4C219.6,636.1 225.7,634.1 230.3,631.5C234.9,628.9 238.1,624.5 242.0,621.5C245.9,618.5 249.9,615.8 253.9,613.5C257.9,611.2 262.6,608.8 265.9,607.6C269.2,606.5 271.1,606.6 273.8,606.6C276.5,606.6 278.5,607.4 281.8,607.6C285.1,607.8 290.5,608.6 293.8,607.6C297.1,606.6 299.1,604.6 301.7,601.6C304.3,598.6 307.0,594.0 309.7,589.7C312.4,585.4 315.0,580.7 317.6,575.7C320.2,570.7 322.9,565.1 325.6,559.8C328.3,554.5 331.0,549.2 333.6,543.9C336.2,538.6 339.4,532.3 341.5,528.0C343.6,523.7 344.6,521.8 346.0,518.0C347.4,514.2 348.5,509.7 350.0,505.0C351.5,500.3 353.3,494.2 355.0,490.0C356.7,485.8 359.0,482.9 360.2,480.0C361.4,477.1 361.2,475.6 362.1,472.4C363.1,469.2 364.4,465.0 365.9,460.9C367.4,456.8 369.4,452.3 371.1,448.0C372.8,443.7 374.5,439.5 376.2,435.2C377.9,430.9 379.6,426.5 381.3,422.4C383.0,418.3 384.8,414.6 386.5,410.8C388.2,407.0 389.9,402.5 391.6,399.3C393.3,396.1 395.1,393.5 396.8,391.6C398.5,389.7 400.1,388.7 401.9,387.7C403.7,386.7 406.7,386.1 407.7,385.8" stroke="#ff0000"/>
<path d="M78.9,394.4C80.2,395.0 84.0,396.2 86.6,398.3C89.2,400.4 92.1,403.4 94.3,407.0C96.5,410.6 98.2,415.5 100.0,420.0C101.8,424.5 103.3,429.3 105.0,434.0C106.7,438.7 108.2,442.0 110.0,448.0C111.8,454.0 114.2,463.5 116.0,470.0C117.8,476.5 119.3,481.5 121.0,487.0C122.7,492.5 124.3,497.5 126.0,503.0C127.7,508.5 129.3,514.2 131.0,520.0C132.7,525.8 134.5,533.0 136.0,538.0C137.5,543.0 138.8,546.3 140.0,550.0C141.2,553.7 141.8,556.3 143.0,560.0C144.2,563.7 145.1,566.7 147.0,572.0C148.9,577.3 151.7,585.2 154.6,592.0C157.5,598.8 161.3,606.5 164.6,613.0C167.9,619.5 170.8,625.3 174.5,631.0C178.2,636.7 182.5,643.0 186.5,647.4C190.5,651.8 193.8,655.8 198.4,657.3C203.0,658.8 209.0,656.9 214.3,656.3C219.6,655.6 225.7,654.2 230.3,653.4C234.9,652.6 238.1,652.1 242.0,651.4C245.9,650.7 249.9,649.9 253.9,649.4C257.9,648.9 262.6,648.7 265.9,648.4C269.2,648.1 270.5,648.1 273.8,647.4C277.1,646.7 282.2,646.1 285.8,644.4C289.4,642.7 292.4,640.2 295.7,637.4C299.0,634.6 302.4,631.5 305.7,627.5C309.0,623.5 312.3,618.8 315.6,613.5C318.9,608.2 322.3,601.9 325.6,595.6C328.9,589.3 332.2,582.7 335.5,575.7C338.8,568.7 342.5,560.8 345.5,553.8C348.5,546.8 351.2,539.5 353.5,533.9C355.8,528.3 357.6,524.8 359.4,520.0C361.1,515.2 362.6,509.7 364.0,505.0C365.4,500.3 366.8,496.2 368.0,492.0C369.2,487.8 370.2,484.6 371.1,480.0C372.0,475.4 372.5,469.4 373.6,464.7C374.7,460.0 376.2,456.0 377.5,451.9C378.8,447.8 380.0,444.1 381.3,440.3C382.6,436.5 383.9,432.4 385.2,428.8C386.5,425.2 387.7,421.7 389.0,418.5C390.3,415.3 391.6,412.1 392.9,409.5C394.2,406.9 395.3,405.0 396.8,403.1C398.3,401.2 400.1,399.3 401.9,398.0C403.7,396.7 406.7,395.8 407.7,395.4" stroke="#ff0000"/>
<path d="M78.9,400.0C80.2,400.7 84.0,401.7 86.6,404.0C89.2,406.3 92.1,410.2 94.3,414.0C96.5,417.8 98.2,422.5 100.0,427.0C101.8,431.5 103.1,433.8 105.0,441.0C106.9,448.2 109.7,462.5 111.5,470.0C113.3,477.5 114.4,480.5 116.0,486.0C117.6,491.5 119.3,497.3 121.0,503.0C122.7,508.7 124.3,513.8 126.0,520.0C127.7,526.2 129.3,533.7 131.0,540.0C132.7,546.3 134.5,552.7 136.0,558.0C137.5,563.3 138.5,566.7 140.0,572.0C141.5,577.3 143.2,584.0 145.0,590.0C146.8,596.0 148.8,601.7 151.0,608.0C153.2,614.3 155.7,621.8 158.0,628.0C160.3,634.2 162.8,640.2 164.6,645.0C166.4,649.8 167.3,652.0 169.0,657.0C170.7,662.0 173.6,672.0 174.5,675.0" stroke="#ff0000"/>
<path d="M78.9,413.7C80.2,414.5 84.0,416.1 86.6,418.5C89.2,420.9 92.1,424.5 94.3,428.1C96.5,431.7 98.4,436.0 100.0,440.0C101.6,444.0 102.8,447.0 104.0,452.0C105.2,457.0 105.8,464.3 107.0,470.0C108.2,475.7 109.5,480.5 111.0,486.0C112.5,491.5 114.3,497.3 116.0,503.0C117.7,508.7 119.3,513.8 121.0,520.0C122.7,526.2 124.5,533.3 126.0,540.0C127.5,546.7 128.8,553.3 130.0,560.0C131.2,566.7 132.1,571.7 133.0,580.0C133.9,588.3 134.8,600.0 135.5,610.0C136.2,620.0 136.9,629.2 137.5,640.0C138.1,650.8 138.8,669.2 139.0,675.0" stroke="#ff0000"/>
<path d="M79.0,537.9C80.3,538.2 84.2,538.2 86.9,539.9C89.6,541.6 92.2,544.2 94.9,547.9C97.6,551.5 100.2,556.5 102.9,561.8C105.6,567.1 108.2,572.7 110.8,579.7C113.4,586.7 116.1,595.0 118.8,603.6C121.5,612.2 124.5,622.9 126.8,631.5C129.1,640.1 131.0,648.1 132.7,655.4C134.3,662.6 136.0,671.7 136.7,675.0" stroke="#ff0000"/>
<path d="M79.0,565.8C80.3,566.3 84.2,566.8 86.9,568.8C89.6,570.8 92.2,573.9 94.9,577.7C97.6,581.5 100.2,586.4 102.9,591.7C105.6,597.0 108.5,603.3 110.8,609.6C113.1,615.9 114.8,622.5 116.8,629.5C118.8,636.5 121.1,643.8 122.8,651.4C124.5,659.0 126.1,671.1 126.8,675.0" stroke="#ff0000"/>
<path d="M79.0,587.7C80.3,588.2 84.2,588.7 86.9,590.7C89.6,592.7 92.2,595.8 94.9,599.6C97.6,603.4 100.6,608.2 102.9,613.5C105.2,618.8 106.8,625.2 108.8,631.5C110.8,637.8 113.1,644.1 114.8,651.4C116.5,658.6 118.1,671.1 118.8,675.0" stroke="#ff0000"/>
<path d="M79.0,616.5C80.3,617.0 84.2,617.7 86.9,619.5C89.6,621.3 92.6,624.2 94.9,627.5C97.2,630.8 98.9,634.8 100.9,639.4C102.9,644.0 105.2,649.5 106.8,655.4C108.4,661.3 110.1,671.7 110.8,675.0" stroke="#ff0000"/>
<path d="M79.0,627.5C80.3,628.2 84.2,629.2 86.9,631.5C89.6,633.8 92.6,637.4 94.9,641.4C97.2,645.4 99.2,649.8 100.9,655.4C102.6,661.0 104.2,671.7 104.9,675.0" stroke="#ff0000"/>
<path d="M180.0,668.0C183.1,668.0 192.7,667.9 198.4,668.3C204.1,668.7 209.0,669.5 214.3,670.3C219.6,671.1 227.4,672.5 230.0,673.0" stroke="#ff0000"/>
<path d="M407.7,414.0C406.9,414.3 404.6,414.7 403.2,415.9C401.8,417.1 400.6,419.0 399.3,421.1C398.0,423.2 396.8,426.0 395.5,428.8C394.2,431.6 392.9,434.4 391.6,437.8C390.3,441.2 389.1,445.2 387.8,449.3C386.5,453.4 385.0,457.1 383.9,462.2C382.8,467.3 382.6,473.7 381.3,480.0C380.0,486.3 377.6,493.3 376.0,500.0C374.4,506.7 372.8,514.7 371.4,520.0C370.0,525.3 369.4,525.6 367.4,531.9C365.4,538.2 362.4,548.8 359.4,557.8C356.4,566.8 352.8,576.7 349.5,585.7C346.2,594.7 342.8,603.3 339.5,611.6C336.2,619.9 332.9,627.8 329.6,635.4C326.3,643.0 322.9,650.7 319.6,657.3C316.3,663.9 311.4,672.0 309.7,675.0" stroke="#ff0000"/>
<path d="M407.7,388.0C406.7,388.3 403.7,388.9 401.9,390.0C400.1,391.1 398.3,391.7 396.8,394.5C395.3,397.3 394.4,403.2 392.9,407.0C391.4,410.8 389.5,413.3 387.8,417.2C386.1,421.1 384.3,426.0 382.6,430.1C380.9,434.2 379.2,437.5 377.5,441.6C375.8,445.7 374.1,450.2 372.4,454.5C370.7,458.8 368.7,463.1 367.2,467.3C365.7,471.6 364.8,474.6 363.4,480.0C362.0,485.4 360.6,490.7 359.0,500.0C357.4,509.3 356.1,525.9 353.5,535.9C350.9,545.9 346.8,551.8 343.5,559.8C340.2,567.8 336.9,576.1 333.6,583.7C330.3,591.3 326.9,598.6 323.6,605.6C320.3,612.6 317.0,619.2 313.7,625.5C310.4,631.8 307.0,637.8 303.7,643.4C300.4,649.0 297.1,654.0 293.8,659.3C290.5,664.6 285.5,672.4 283.8,675.0" stroke="#ff0000"/>
<path d="M407.7,398.0C406.7,398.4 403.7,399.3 401.9,400.5C400.1,401.7 398.7,403.3 396.8,405.0C394.9,406.7 392.2,407.9 390.3,410.8C388.4,413.7 386.9,418.3 385.2,422.4C383.5,426.5 381.8,430.9 380.1,435.2C378.4,439.5 376.7,443.7 375.0,448.0C373.3,452.3 371.4,456.4 369.8,460.9C368.2,465.4 366.9,470.1 365.3,475.0C363.7,479.9 361.9,485.0 360.0,490.0C358.1,495.0 356.0,500.0 354.0,505.0C352.0,510.0 350.3,514.2 348.0,520.0C345.7,525.8 341.3,536.7 340.0,540.0" stroke="#ff0000"/>
<path d="M407.2,537.9C405.6,538.6 400.6,539.2 397.3,541.9C394.0,544.5 390.3,548.8 387.3,553.8C384.3,558.8 382.0,564.8 379.3,571.8C376.6,578.8 374.0,587.0 371.4,595.6C368.8,604.2 365.7,614.5 363.4,623.5C361.1,632.5 359.0,640.8 357.4,649.4C355.8,658.0 354.1,670.7 353.5,675.0" stroke="#ff0000"/>
<path d="M407.2,565.8C405.6,566.5 400.3,567.5 397.3,569.8C394.3,572.1 392.0,575.4 389.3,579.7C386.6,584.0 384.0,589.3 381.3,595.6C378.6,601.9 375.7,610.2 373.4,617.5C371.1,624.8 369.2,632.4 367.4,639.4C365.6,646.4 363.7,653.4 362.4,659.3C361.1,665.2 359.9,672.4 359.4,675.0" stroke="#ff0000"/>
<path d="M407.2,587.7C405.6,588.4 400.3,589.4 397.3,591.7C394.3,594.0 392.0,597.3 389.3,601.6C386.6,605.9 383.6,611.9 381.3,617.5C379.0,623.1 377.2,629.1 375.4,635.4C373.6,641.7 371.7,648.8 370.4,655.4C369.1,662.0 367.9,671.7 367.4,675.0" stroke="#ff0000"/>
<path d="M407.2,616.5C405.6,617.0 400.3,617.3 397.3,619.5C394.3,621.7 391.6,625.5 389.3,629.5C387.0,633.5 385.0,638.4 383.3,643.4C381.6,648.4 380.3,654.0 379.3,659.3C378.3,664.6 377.7,672.4 377.4,675.0" stroke="#ff0000"/>
<path d="M407.2,627.5C405.6,628.2 400.1,629.2 397.3,631.5C394.5,633.8 392.3,637.4 390.3,641.4C388.3,645.4 386.6,649.8 385.3,655.4C384.0,661.0 382.8,671.7 382.3,675.0" stroke="#ff0000"/>
</g>
<g clip-path="url(#c1)" fill="none" stroke-width="5.4" stroke-linecap="round" stroke-linejoin="round">
<path d="M432.1,102.8C434.8,103.5 443.0,104.5 448.5,106.9C454.0,109.3 459.5,112.8 465.0,117.2C470.5,121.7 476.3,127.8 481.4,133.6C486.5,139.4 491.4,145.9 495.8,152.1C500.2,158.3 504.3,165.1 508.1,170.6C511.9,176.1 515.3,184.0 518.4,185.0C521.5,186.0 523.5,179.4 526.6,176.7C529.7,173.9 532.8,170.4 536.9,168.5C541.0,166.6 546.8,167.1 551.2,165.4C555.7,163.7 559.5,161.2 563.6,158.3C567.7,155.4 571.8,151.8 575.9,148.0C580.0,144.2 584.4,138.8 588.2,135.7C592.0,132.6 595.1,130.7 598.5,129.5C601.9,128.3 605.3,128.0 608.7,128.5C612.1,129.0 615.6,130.9 619.0,132.6C622.4,134.3 626.2,137.3 629.3,138.7C632.4,140.1 634.1,141.1 637.5,140.8C640.9,140.5 645.3,138.6 649.8,136.7C654.2,134.8 659.4,132.1 664.2,129.5C669.0,126.9 673.5,124.0 678.6,121.3C683.7,118.6 689.5,115.7 695.0,113.1C700.5,110.5 706.6,107.6 711.4,105.9C716.2,104.2 719.8,103.5 723.7,102.8C727.6,102.1 733.1,102.0 735.0,101.8" stroke="#000000"/>
<path d="M432.1,104.9C434.2,107.0 439.9,110.7 444.4,117.2C448.8,123.7 454.0,134.7 458.8,143.9C463.6,153.1 468.8,164.7 473.2,172.6C477.6,180.5 481.7,186.5 485.5,191.1C489.3,195.7 492.4,199.0 495.8,200.4C499.2,201.8 502.2,200.9 506.0,199.3C509.8,197.8 515.0,191.1 518.4,191.1C521.8,191.1 523.9,195.9 526.6,199.3C529.3,202.7 532.1,208.8 534.8,211.7C537.5,214.6 538.5,215.6 543.0,216.8C547.5,218.0 555.0,217.8 561.5,218.8C568.0,219.8 575.1,221.1 582.0,222.6C588.9,224.1 596.8,226.5 602.6,227.7C608.4,228.9 611.9,229.6 617.0,229.8C622.1,230.0 627.9,229.8 633.4,228.8C638.9,227.8 644.0,225.3 649.8,223.6C655.6,221.9 664.2,219.0 668.3,218.5C672.4,218.0 671.4,218.1 674.5,220.5C677.6,222.9 682.7,229.1 686.8,232.9C690.9,236.7 694.3,240.4 699.1,243.1C703.9,245.8 709.5,247.9 715.5,249.3C721.5,250.7 731.8,251.0 735.0,251.3" stroke="#000000"/>
<path d="M432.1,252.4C434.8,251.7 442.3,250.2 448.5,248.3C454.7,246.4 462.2,244.3 469.1,241.1C476.0,237.8 484.5,232.6 489.6,228.8C494.7,225.0 496.5,221.9 499.9,218.5C503.3,215.1 506.8,210.8 510.2,208.2C513.6,205.6 517.0,204.2 520.4,203.1C523.8,202.0 525.6,202.0 530.7,201.4C535.8,200.8 545.0,201.0 551.2,199.3C557.4,197.6 562.6,193.8 567.7,191.1C572.8,188.4 577.2,185.1 582.0,182.9C586.8,180.7 592.3,178.1 596.4,177.8C600.5,177.5 603.3,178.7 606.7,180.9C610.1,183.1 613.6,187.0 617.0,191.1C620.4,195.2 624.5,202.3 627.2,205.5C629.9,208.7 630.7,207.1 633.4,210.3C636.1,213.5 640.2,219.5 643.6,224.6C647.0,229.7 650.5,236.3 653.9,241.1C657.3,245.9 660.8,250.7 664.2,253.4C667.6,256.1 669.4,257.3 674.5,257.5C679.6,257.7 688.2,255.1 695.0,254.4C701.8,253.7 708.8,253.4 715.5,253.4C722.2,253.4 731.8,254.2 735.0,254.4" stroke="#000000"/>
<path d="M432.1,254.4C436.6,253.9 450.8,252.3 458.8,251.3C466.8,250.3 472.9,249.7 480.0,248.5C487.1,247.3 494.1,245.5 501.2,243.9C508.3,242.3 516.0,240.5 522.4,239.0C528.8,237.5 534.1,236.2 539.3,234.7C544.5,233.2 549.2,232.6 553.4,230.0C557.6,227.4 560.9,223.1 564.7,219.2C568.5,215.3 572.2,210.5 576.0,206.5C579.8,202.5 583.3,198.7 587.3,195.2C591.3,191.7 596.0,188.1 600.0,185.3C604.0,182.5 607.9,180.1 611.4,178.2C614.9,176.3 618.4,174.9 621.2,174.0C624.0,173.1 625.9,172.5 628.3,172.6C630.7,172.7 632.5,172.6 635.4,174.7C638.3,176.8 642.3,181.2 645.7,185.0C649.1,188.8 652.6,193.2 656.0,197.3C659.4,201.4 663.4,206.9 666.3,209.6C669.2,212.3 671.0,214.0 673.4,213.7C675.8,213.4 677.7,211.4 680.6,207.6C683.5,203.8 687.5,197.9 690.9,191.1C694.3,184.2 697.8,174.7 701.2,166.5C704.6,158.3 708.0,149.3 711.4,141.8C714.8,134.3 718.6,126.4 721.7,121.3C724.8,116.2 727.7,113.4 729.9,111.0C732.1,108.6 734.1,107.6 735.0,106.9" stroke="#000000"/>
<path d="M432.1,80.2C434.2,81.9 439.9,85.0 444.4,90.5C448.8,96.0 454.0,104.5 458.8,113.1C463.6,121.6 468.4,132.2 473.2,141.8C478.0,151.4 482.8,161.0 487.6,170.6C492.4,180.2 498.1,192.0 501.9,199.3C505.7,206.6 507.4,209.8 510.2,214.4C513.0,219.0 515.3,222.2 518.4,226.7C521.5,231.1 525.2,236.3 528.6,241.1C532.0,245.9 535.8,252.4 538.9,255.5C542.0,258.6 543.7,258.8 547.1,259.6C550.5,260.5 555.6,261.3 559.4,260.6C563.2,259.9 565.9,258.1 569.7,255.5C573.5,252.9 577.9,248.3 582.0,245.2C586.1,242.1 590.6,239.1 594.4,237.0C598.2,234.9 601.2,233.1 604.6,232.9C608.0,232.7 611.5,233.5 614.9,235.9C618.3,238.3 621.8,243.2 625.2,247.2C628.6,251.1 632.3,256.7 635.4,259.6C638.5,262.5 640.5,263.7 643.6,264.7C646.7,265.7 648.8,266.2 653.9,265.7C659.0,265.2 669.0,261.2 674.5,261.6C680.0,262.0 682.3,265.1 686.8,267.8C691.2,270.5 696.4,274.9 701.2,278.0C706.0,281.1 709.9,284.2 715.5,286.3C721.1,288.4 731.8,289.7 735.0,290.4" stroke="#ff0000"/>
<path d="M432.1,214.4C434.8,215.1 443.0,216.1 448.5,218.5C454.0,220.9 459.9,225.4 465.0,228.8C470.1,232.2 474.9,236.6 479.3,239.0C483.8,241.4 487.6,243.3 491.7,243.1C495.8,242.8 500.6,239.8 504.0,237.5C507.4,235.2 509.3,231.9 512.0,229.0C514.7,226.1 517.5,222.6 520.0,220.0C522.5,217.4 524.5,215.6 527.0,213.5C529.5,211.4 531.4,209.3 534.8,207.6C538.1,205.9 543.0,204.8 547.1,203.4C551.2,202.0 555.3,201.4 559.4,199.3C563.5,197.2 567.3,194.5 571.8,191.1C576.2,187.7 581.6,182.4 586.1,178.8C590.6,175.2 595.1,171.5 598.5,169.6C601.9,167.7 603.6,167.3 606.7,167.5C609.8,167.7 613.6,169.1 617.0,170.6C620.4,172.1 623.8,175.0 627.2,176.7C630.6,178.4 633.7,181.0 637.5,180.9C641.3,180.8 645.3,178.5 649.8,176.0C654.2,173.5 659.4,170.0 664.2,166.0C669.0,162.0 674.2,156.9 678.6,152.0C683.0,147.1 686.8,142.1 690.9,136.5C695.0,130.9 699.1,124.6 703.2,118.5C707.3,112.4 711.7,105.4 715.5,100.0C719.3,94.6 722.5,89.5 725.8,86.0C729.0,82.5 733.5,80.2 735.0,79.0" stroke="#ff0000"/>
<path d="M432.1,290.4C434.8,289.7 442.3,288.7 448.5,286.3C454.7,283.9 462.2,280.1 469.1,276.0C476.0,271.9 482.8,266.4 489.6,261.6C496.5,256.8 504.4,250.6 510.2,247.2C516.0,243.8 519.0,242.6 524.5,241.1C530.0,239.6 537.9,238.9 543.0,238.0C548.1,237.1 551.2,237.1 555.3,235.9C559.4,234.7 563.6,233.0 567.7,230.8C571.8,228.6 575.9,225.3 580.0,222.6C584.1,219.9 588.2,216.3 592.3,214.4C596.4,212.5 600.5,212.0 604.6,211.3C608.7,210.6 613.6,210.5 617.0,210.3C620.4,210.1 622.5,210.0 625.2,210.3C627.9,210.6 630.3,210.6 633.4,212.3C636.5,214.0 640.2,217.1 643.6,220.5C647.0,223.9 650.1,228.5 653.9,232.9C657.7,237.3 662.9,243.6 666.3,247.2C669.7,250.8 671.1,254.7 674.5,254.4C677.9,254.1 682.7,248.8 686.8,245.2C690.9,241.6 694.3,237.0 699.1,232.9C703.9,228.8 709.5,223.6 715.5,220.5C721.5,217.4 731.8,215.4 735.0,214.4" stroke="#ff0000"/>
<path d="M432.1,299.6C436.6,299.6 449.2,300.3 458.8,299.6C468.4,298.9 479.3,297.7 489.6,295.5C499.9,293.3 511.5,289.2 520.4,286.3C529.3,283.4 537.9,279.7 543.0,278.0C548.1,276.3 547.1,278.1 551.2,276.0C555.3,273.9 562.6,267.2 567.7,265.7C572.8,264.2 576.2,266.1 582.0,266.8C587.8,267.5 596.8,269.1 602.6,269.8C608.4,270.5 611.9,270.9 617.0,270.9C622.1,270.9 629.3,269.3 633.4,269.8C637.5,270.3 638.9,271.5 641.6,273.9C644.3,276.3 646.7,280.4 649.8,284.2C652.9,288.0 656.0,293.4 660.1,296.5C664.2,299.6 668.7,302.0 674.5,302.7C680.3,303.4 688.2,301.1 695.0,300.6C701.8,300.1 708.8,299.9 715.5,299.6C722.2,299.3 731.8,298.8 735.0,298.6" stroke="#ff0000"/>
<path d="M432.1,488.3C434.2,489.3 440.3,491.4 444.4,494.5C448.5,497.6 452.7,502.4 456.8,506.8C460.9,511.2 465.0,514.7 469.1,521.0C473.2,527.3 476.9,537.2 481.4,544.6C485.8,552.0 491.0,559.7 495.8,565.2C500.6,570.7 505.4,574.4 510.2,577.5C515.0,580.6 519.7,582.3 524.5,583.7C529.3,585.1 534.4,585.2 538.9,585.7C543.4,586.2 547.1,585.8 551.2,586.7C555.3,587.6 559.5,589.4 563.6,590.9C567.7,592.4 572.1,595.0 575.9,596.0C579.6,597.0 582.3,597.5 586.1,597.0C589.9,596.5 594.7,594.1 598.5,592.9C602.3,591.7 605.6,590.5 608.7,589.8C611.8,589.1 613.9,588.6 617.0,588.8C620.1,589.0 623.8,590.5 627.2,590.9C630.6,591.2 634.1,592.0 637.5,590.9C640.9,589.8 644.4,587.1 647.8,584.0C651.2,580.9 654.4,576.8 658.1,572.0C661.8,567.2 666.1,561.3 670.2,555.5C674.4,549.7 678.7,543.4 683.0,537.0C687.3,530.6 691.8,523.1 696.0,517.0C700.2,510.9 704.4,504.3 708.4,500.1C712.4,495.9 715.9,493.6 720.1,491.7C724.3,489.8 731.3,488.9 733.5,488.4" stroke="#000000"/>
<path d="M432.1,490.4C433.5,491.8 437.6,494.2 440.3,498.6C443.0,503.1 446.1,510.2 448.5,517.1C450.9,524.0 453.1,532.5 455.0,540.0C456.9,547.5 458.3,553.4 460.0,562.0C461.7,570.6 463.1,581.8 465.0,591.9C466.9,602.0 469.1,610.0 471.1,622.7C473.2,635.4 476.2,659.7 477.3,667.9C478.4,676.1 477.9,671.3 478.0,672.0" stroke="#000000"/>
<path d="M432.1,533.5C433.8,534.3 439.0,536.3 442.4,538.5C445.8,540.7 449.2,542.9 452.6,546.7C456.0,550.5 459.5,556.0 462.9,561.1C466.3,566.2 469.8,572.0 473.2,577.5C476.6,583.0 479.7,588.1 483.5,593.9C487.3,599.7 491.4,607.6 495.8,612.4C500.2,617.2 505.4,620.7 510.2,622.7C515.0,624.8 519.0,624.2 524.5,624.7C530.0,625.2 536.8,625.6 543.0,625.8C549.2,626.0 556.7,626.5 561.5,625.8C566.3,625.1 568.0,623.8 571.8,621.7C575.6,619.7 580.3,615.2 584.1,613.5C587.9,611.8 590.3,611.6 594.4,611.4C598.5,611.2 603.6,612.0 608.7,612.4C613.8,612.8 620.4,612.6 625.2,613.5C630.0,614.4 633.7,616.1 637.5,617.6C641.3,619.1 644.7,621.3 647.8,622.7C650.9,624.1 653.6,625.8 656.0,625.8C658.4,625.8 659.8,624.9 662.2,622.7C664.6,620.5 667.7,616.2 670.4,612.4C673.1,608.6 676.5,603.1 678.4,600.0C680.3,596.9 680.0,596.9 681.7,593.6C683.4,590.3 685.9,584.7 688.4,580.2C690.9,575.7 694.0,571.2 696.8,566.8C699.6,562.3 702.3,557.4 705.1,553.5C707.9,549.6 710.3,546.3 713.4,543.5C716.5,540.7 720.1,538.3 723.5,536.8C726.9,535.3 731.8,534.7 733.5,534.3" stroke="#000000"/>
<path d="M432.1,539.7C433.4,540.4 437.4,542.1 440.0,544.0C442.6,545.9 445.3,548.2 447.6,551.0C449.9,553.8 451.8,557.2 454.0,561.0C456.2,564.8 458.5,569.4 460.7,573.9C462.9,578.4 464.8,583.1 467.0,588.0C469.2,592.9 471.6,598.4 473.8,603.4C476.0,608.4 477.8,613.1 480.0,618.0C482.2,622.9 484.6,629.1 486.9,632.8C489.2,636.5 491.3,637.8 494.0,640.0C496.7,642.2 500.1,643.9 503.3,645.9C506.5,647.9 509.7,649.8 513.0,652.0C516.3,654.2 519.7,657.0 523.0,659.0C526.3,661.0 529.7,662.5 533.0,664.0C536.3,665.5 539.6,668.3 543.0,667.9C546.4,667.5 549.9,664.1 553.3,661.7C556.7,659.3 560.5,655.2 563.6,653.5C566.7,651.8 568.7,651.0 571.8,651.4C574.9,651.8 578.6,653.9 582.0,655.6C585.4,657.3 588.5,659.8 592.3,661.7C596.1,663.6 600.5,665.9 604.6,666.9C608.7,667.9 612.5,668.1 617.0,667.9C621.5,667.7 626.9,667.5 631.3,665.8C635.7,664.1 639.8,660.7 643.6,657.6C647.4,654.5 650.8,650.2 653.9,647.3C657.0,644.4 659.1,641.6 662.2,640.1C665.3,638.6 669.3,639.1 672.4,638.1C675.5,637.1 677.9,636.9 680.6,634.0C683.3,631.1 686.4,626.3 688.8,620.6C691.2,614.9 693.5,605.6 695.1,600.0C696.7,594.4 697.0,591.9 698.4,586.9C699.8,581.9 701.9,575.8 703.4,570.2C704.9,564.6 706.2,559.1 707.6,553.5C709.0,547.9 710.5,542.1 711.8,536.8C713.0,531.5 713.7,526.8 715.1,521.8C716.5,516.8 718.2,510.9 720.1,506.7C722.0,502.5 724.6,499.2 726.8,496.7C729.0,494.2 732.4,492.5 733.5,491.7" stroke="#000000"/>
<path d="M735.0,540.0C733.6,540.9 729.3,542.3 726.8,545.1C724.3,547.9 722.0,552.6 720.1,556.8C718.2,561.0 716.8,565.2 715.1,570.2C713.4,575.2 711.5,581.9 710.1,586.9C708.7,591.9 707.9,596.1 706.8,600.0C705.6,603.9 704.5,605.0 703.2,610.0C701.9,615.0 700.4,623.8 699.0,630.0C697.6,636.2 696.2,641.0 695.0,647.3C693.8,653.6 692.2,663.8 691.5,667.9C690.8,672.0 690.7,671.3 690.5,672.0" stroke="#000000"/>
<path d="M432.1,434.2C433.5,434.7 437.9,435.4 440.3,437.3C442.7,439.2 444.3,441.7 446.4,445.5C448.4,449.3 450.6,454.8 452.6,459.9C454.7,465.0 456.6,470.8 458.7,476.3C460.8,481.8 462.5,486.9 464.9,492.7C467.3,498.5 470.4,505.3 473.1,511.2C475.8,517.1 478.5,522.9 481.0,528.0C483.5,533.1 485.5,537.4 488.0,542.0C490.5,546.6 493.1,550.8 496.2,555.6C499.3,560.4 503.1,566.3 506.6,571.0C510.1,575.7 513.2,580.0 517.0,584.0C520.8,588.0 525.6,592.3 529.1,595.0C532.6,597.7 533.9,598.9 537.8,600.0C541.7,601.1 547.4,600.5 552.4,601.7C557.4,603.0 563.4,606.3 568.0,607.5C572.6,608.7 576.0,609.0 580.0,609.0C584.0,609.0 587.9,608.3 592.0,607.5C596.1,606.7 600.4,604.9 604.6,604.2C608.8,603.5 612.5,603.5 617.0,603.2C621.5,602.9 626.9,603.4 631.3,602.2C635.7,601.0 639.5,599.1 643.6,596.0C647.7,592.9 651.9,588.8 656.0,583.7C660.1,578.6 664.2,571.7 668.3,565.2C672.4,558.7 677.0,551.3 680.6,544.6C684.2,537.9 687.3,531.1 690.0,525.0C692.7,518.9 694.5,513.8 697.0,508.0C699.5,502.2 702.4,496.3 705.1,490.0C707.8,483.7 711.3,476.1 713.4,470.0C715.5,463.9 715.5,458.2 717.6,453.4C719.7,448.6 722.9,444.2 725.8,441.1C728.7,438.0 733.5,435.9 735.0,434.9" stroke="#ff0000"/>
<path d="M432.1,473.2C433.5,473.7 437.9,474.4 440.3,476.3C442.7,478.2 444.3,481.1 446.4,484.5C448.4,487.9 450.2,491.7 452.6,496.8C455.0,501.9 458.2,508.4 460.8,515.3C463.4,522.2 466.1,531.0 468.5,538.0C470.9,545.0 472.8,550.6 475.4,557.3C478.0,564.0 480.9,571.5 484.1,578.1C487.3,584.8 490.8,591.1 494.5,597.2C498.2,603.3 502.9,609.6 506.6,614.5C510.4,619.4 513.2,623.2 517.0,626.7C520.8,630.2 525.8,632.9 529.1,635.3C532.4,637.7 535.0,639.4 537.0,641.0C539.0,642.6 540.0,644.3 541.3,645.2C542.6,646.1 543.1,646.4 544.7,646.2C546.4,646.1 546.7,645.0 551.2,644.3C555.7,643.6 564.9,642.7 571.8,642.2C578.6,641.7 586.5,640.9 592.3,641.2C598.1,641.6 602.6,644.1 606.7,644.3C610.8,644.5 612.5,642.9 617.0,642.2C621.5,641.5 629.0,640.6 633.4,640.1C637.8,639.6 640.2,640.6 643.6,639.1C647.0,637.6 650.5,635.0 653.9,630.9C657.3,626.8 661.2,619.6 664.2,614.5C667.2,609.4 669.4,604.9 672.0,600.0C674.6,595.1 677.3,590.7 680.0,585.0C682.7,579.3 685.5,572.3 688.0,566.0C690.5,559.7 692.8,553.0 695.0,547.0C697.2,541.0 698.8,535.6 701.0,530.0C703.2,524.4 705.8,519.5 708.4,513.4C711.0,507.3 714.0,499.0 716.8,493.4C719.6,487.8 722.3,483.4 725.1,480.0C727.9,476.6 732.1,474.4 733.5,473.3" stroke="#ff0000"/>
<path d="M432.1,556.1C433.8,556.9 439.0,558.2 442.4,561.1C445.8,564.0 449.2,567.9 452.6,573.4C456.0,578.9 459.5,586.4 462.9,593.9C466.3,601.4 470.1,610.7 473.2,618.6C476.3,626.5 478.7,633.7 481.4,641.2C484.1,648.7 487.8,658.7 489.6,663.8C491.5,668.9 492.0,670.6 492.5,672.0" stroke="#ff0000"/>
<path d="M735.0,556.8C733.1,557.4 726.8,558.2 723.5,560.2C720.2,562.2 717.6,565.2 715.1,568.5C712.6,571.8 710.9,575.0 708.4,580.2C705.9,585.5 702.3,593.6 700.1,600.0C697.9,606.4 697.6,611.4 695.0,618.6C692.4,625.8 687.8,635.0 684.7,643.2C681.6,651.4 678.0,663.1 676.5,667.9C675.0,672.7 675.7,671.3 675.5,672.0" stroke="#ff0000"/>
<path d="M432.1,645.3C433.8,646.0 439.0,647.0 442.4,649.4C445.8,651.8 449.5,656.3 452.6,659.7C455.7,663.1 459.3,667.9 460.9,669.9C462.5,671.9 461.8,671.6 462.0,672.0" stroke="#ff0000"/>
<path d="M432.1,656.6C433.5,657.1 437.6,657.8 440.3,659.7C443.0,661.6 446.9,665.9 448.5,667.9C450.1,669.9 449.8,671.3 450.0,672.0" stroke="#ff0000"/>
<path d="M735.0,645.3C733.1,646.0 727.3,647.0 723.7,649.4C720.1,651.8 716.6,656.6 713.5,659.7C710.4,662.8 706.9,665.9 705.3,667.9C703.7,669.9 704.2,671.3 704.0,672.0" stroke="#ff0000"/>
<path d="M735.0,657.6C733.5,658.3 728.7,660.0 725.8,661.7C722.9,663.4 719.2,666.2 717.6,667.9C716.0,669.6 716.3,671.3 716.0,672.0" stroke="#ff0000"/>
</g>
<g clip-path="url(#c2)" fill="none" stroke-width="5.4" stroke-linecap="round" stroke-linejoin="round">
<path d="M776.1,104.9C778.8,105.4 786.3,105.9 792.5,107.9C798.7,110.0 806.9,113.6 813.1,117.2C819.3,120.8 824.4,125.0 829.5,129.5C834.6,133.9 839.1,138.8 843.9,143.9C848.7,149.0 853.7,155.2 858.3,160.3C862.9,165.4 867.5,173.7 871.6,174.7C875.7,175.7 879.0,168.9 882.9,166.5C886.8,164.1 891.1,161.7 895.2,160.3C899.3,158.9 903.5,159.7 907.6,158.3C911.7,156.9 915.8,154.8 919.9,152.1C924.0,149.3 928.1,145.4 932.2,141.8C936.3,138.2 940.4,133.8 944.5,130.5C948.6,127.2 952.7,124.2 956.8,122.3C960.9,120.4 965.1,119.2 969.2,119.2C973.3,119.2 977.4,120.8 981.5,122.3C985.6,123.8 989.7,127.0 993.8,128.5C997.9,130.1 1002.0,131.3 1006.1,131.6C1010.2,131.9 1014.0,131.5 1018.4,130.5C1022.8,129.5 1028.0,127.1 1032.8,125.4C1037.6,123.7 1042.1,122.2 1047.2,120.3C1052.3,118.4 1058.1,116.0 1063.6,114.1C1069.1,112.2 1075.3,110.4 1080.1,109.0C1084.9,107.6 1087.4,106.6 1092.4,105.9C1097.4,105.2 1107.0,105.1 1109.9,104.9" stroke="#000000"/>
<path d="M776.1,106.9C777.8,107.9 782.6,109.3 786.4,113.1C790.2,116.9 794.2,122.7 798.7,129.5C803.2,136.3 808.7,147.0 813.1,154.2C817.5,161.4 821.3,167.5 825.4,172.6C829.5,177.7 833.6,181.7 837.7,185.0C841.8,188.3 845.9,190.5 850.0,192.2C854.1,193.9 858.3,194.7 862.4,195.2C866.5,195.7 870.6,195.2 874.7,195.2C878.8,195.2 882.9,195.4 887.0,195.2C891.1,195.0 895.2,194.5 899.3,194.2C903.4,193.9 907.6,194.2 911.7,193.2C915.8,192.2 919.9,189.9 924.0,188.0C928.1,186.1 932.2,183.6 936.3,181.9C940.4,180.2 944.5,178.8 948.6,177.8C952.7,176.8 956.9,176.0 961.0,175.7C965.1,175.3 969.2,176.0 973.3,175.7C977.4,175.4 982.2,174.2 985.6,173.7C989.0,173.2 990.7,172.3 993.8,172.6C996.9,172.9 1000.7,174.0 1004.1,175.7C1007.5,177.4 1010.5,180.0 1014.3,182.9C1018.1,185.8 1022.6,189.8 1026.7,193.2C1030.8,196.6 1034.9,200.2 1039.0,203.4C1043.1,206.6 1047.2,209.7 1051.3,212.6C1055.4,215.5 1058.8,218.2 1063.6,220.8C1068.4,223.4 1074.6,225.9 1080.1,228.0C1085.6,230.1 1091.5,231.9 1096.5,233.1C1101.5,234.3 1107.7,234.8 1109.9,235.2" stroke="#000000"/>
<path d="M776.1,234.2C780.5,233.5 795.8,231.5 802.8,230.0C809.8,228.5 812.9,227.8 818.0,225.0C823.1,222.2 828.3,217.5 833.6,213.0C838.9,208.5 845.2,202.2 850.0,198.0C854.8,193.8 858.8,190.8 862.4,188.0C866.0,185.2 868.5,181.1 871.6,181.0C874.7,180.9 877.6,184.9 880.9,187.6C884.1,190.3 887.7,194.3 891.1,197.3C894.5,200.3 898.0,204.5 901.4,205.5C904.8,206.5 907.9,204.8 911.7,203.4C915.5,202.0 919.9,199.5 924.0,197.3C928.1,195.1 932.2,192.3 936.3,190.1C940.4,187.9 944.5,185.7 948.6,184.0C952.7,182.3 957.6,180.7 961.0,179.8C964.4,178.9 966.1,178.3 969.2,178.8C972.3,179.3 976.0,180.5 979.4,182.9C982.8,185.3 986.3,189.4 989.7,193.2C993.1,197.0 996.9,202.4 1000.0,205.5C1003.1,208.6 1005.5,210.3 1008.2,211.7C1010.9,213.1 1013.3,213.7 1016.4,213.7C1019.5,213.7 1022.9,213.1 1026.7,211.7C1030.5,210.3 1035.2,207.9 1039.0,205.5C1042.8,203.1 1045.9,200.7 1049.3,197.3C1052.7,193.9 1056.1,189.8 1059.5,185.0C1062.9,180.2 1066.4,174.7 1069.8,168.5C1073.2,162.3 1076.7,154.8 1080.1,148.0C1083.5,141.2 1086.9,133.3 1090.3,127.5C1093.7,121.7 1097.3,116.5 1100.6,113.1C1103.9,109.7 1108.4,107.9 1109.9,106.9" stroke="#000000"/>
<path d="M776.1,238.3C782.3,237.8 801.8,236.2 813.1,235.2C824.4,234.2 835.4,233.3 843.9,232.1C852.4,230.9 858.2,229.7 864.4,228.0C870.6,226.3 875.8,224.0 880.9,221.8C886.0,219.6 892.0,216.3 895.2,214.6C898.5,212.9 897.0,211.9 900.4,211.6C903.8,211.3 909.8,211.6 915.8,212.6C921.8,213.6 929.5,216.3 936.3,217.7C943.1,219.1 949.9,220.1 956.8,220.8C963.6,221.5 970.5,222.0 977.4,221.8C984.2,221.6 992.5,220.6 997.9,219.8C1003.3,219.0 1006.3,217.5 1010.0,217.0C1013.7,216.5 1015.8,215.7 1020.0,217.0C1024.2,218.3 1030.0,222.5 1035.0,225.0C1040.0,227.5 1045.0,230.2 1050.0,232.0C1055.0,233.8 1060.0,234.7 1065.0,235.5C1070.0,236.3 1075.0,236.6 1080.0,237.0C1085.0,237.4 1090.0,237.6 1095.0,238.0C1100.0,238.4 1107.4,239.1 1109.9,239.3" stroke="#000000"/>
<path d="M776.1,89.5C778.1,90.3 784.0,91.0 788.4,94.6C792.8,98.2 798.0,104.5 802.8,111.0C807.6,117.5 812.1,125.4 817.2,133.6C822.3,141.8 828.1,151.4 833.6,160.3C839.1,169.2 845.2,179.5 850.0,187.0C854.8,194.5 858.8,200.9 862.4,205.5C866.0,210.1 868.5,214.3 871.6,214.7C874.7,215.0 877.6,209.8 880.9,207.6C884.1,205.4 887.4,202.9 891.1,201.4C894.9,199.9 899.3,199.7 903.4,198.3C907.5,196.9 911.3,195.8 915.8,193.2C920.2,190.6 925.3,186.7 930.1,182.9C934.9,179.1 940.0,173.8 944.5,170.6C949.0,167.3 952.7,165.1 956.8,163.4C960.9,161.7 965.1,160.5 969.2,160.3C973.3,160.1 977.4,161.2 981.5,162.4C985.6,163.6 989.7,166.0 993.8,167.5C997.9,169.0 1002.0,170.8 1006.1,171.6C1010.2,172.4 1014.0,173.1 1018.4,172.6C1022.8,172.1 1028.0,170.6 1032.8,168.5C1037.6,166.4 1042.8,163.4 1047.2,160.3C1051.7,157.2 1055.4,154.4 1059.5,150.0C1063.6,145.6 1067.7,139.4 1071.8,133.6C1075.9,127.8 1080.1,120.9 1084.2,115.1C1088.3,109.3 1092.2,103.0 1096.5,98.7C1100.8,94.4 1107.7,91.0 1109.9,89.5" stroke="#ff0000"/>
<path d="M776.1,210.5C779.5,211.0 790.4,211.9 796.6,213.6C802.8,215.3 807.6,217.9 813.1,220.8C818.6,223.7 824.4,228.3 829.5,231.1C834.6,233.9 839.1,236.2 843.9,237.6C848.7,239.0 853.8,239.2 858.3,239.3C862.8,239.4 866.8,238.0 870.6,238.3C874.4,238.6 877.5,239.8 880.9,241.3C884.3,242.8 888.0,245.8 891.1,247.5C894.2,249.2 895.9,251.2 899.3,251.6C902.7,251.9 906.9,251.3 911.7,249.6C916.5,247.9 922.6,243.9 928.1,241.3C933.6,238.7 939.7,236.1 944.5,234.2C949.3,232.3 952.7,230.9 956.8,230.0C960.9,229.1 965.4,228.8 969.2,229.0C973.0,229.2 976.0,229.7 979.4,231.1C982.8,232.5 986.3,234.5 989.7,237.2C993.1,239.9 996.6,244.8 1000.0,247.5C1003.4,250.2 1007.1,252.3 1010.2,253.7C1013.3,255.1 1015.0,255.5 1018.4,255.7C1021.8,255.9 1026.7,255.7 1030.8,254.7C1034.9,253.7 1039.0,251.8 1043.1,249.6C1047.2,247.4 1051.0,245.1 1055.5,241.3C1060.0,237.5 1064.7,231.1 1069.8,227.0C1074.9,222.9 1079.5,219.3 1086.2,216.7C1092.9,214.1 1106.0,212.4 1109.9,211.6" stroke="#ff0000"/>
<path d="M776.1,274.2C779.5,273.7 789.8,273.2 796.6,271.1C803.5,269.1 811.0,265.5 817.2,261.9C823.4,258.3 828.8,253.4 833.6,249.6C838.4,245.8 841.8,242.7 845.9,239.3C850.0,235.9 854.2,231.7 858.3,229.0C862.4,226.3 867.2,223.1 870.6,222.9C874.0,222.7 875.7,226.5 878.8,228.0C881.9,229.5 885.0,231.4 889.1,232.1C893.2,232.8 899.0,232.6 903.4,232.1C907.8,231.6 911.7,230.5 915.8,229.0C919.9,227.5 924.0,225.0 928.1,222.9C932.2,220.8 936.3,218.6 940.4,216.7C944.5,214.8 948.6,212.8 952.7,211.6C956.8,210.4 961.0,209.8 965.1,209.5C969.2,209.2 973.3,209.3 977.4,209.5C981.5,209.7 985.9,209.8 989.7,210.5C993.5,211.2 996.6,211.9 1000.0,213.6C1003.4,215.3 1006.4,217.9 1010.2,220.8C1014.0,223.7 1018.5,228.0 1022.6,231.1C1026.7,234.2 1030.8,236.6 1034.9,239.3C1039.0,242.0 1043.1,244.8 1047.2,247.5C1051.3,250.2 1055.0,253.0 1059.5,255.7C1064.0,258.4 1068.8,261.3 1073.9,263.9C1079.0,266.5 1084.3,269.4 1090.3,271.1C1096.3,272.8 1106.6,273.7 1109.9,274.2" stroke="#ff0000"/>
<path d="M776.1,285.5C780.5,285.3 793.2,285.4 802.8,284.5C812.4,283.6 823.3,282.8 833.6,280.4C843.9,278.0 855.5,273.2 864.4,270.1C873.3,267.0 881.2,263.9 887.0,261.9C892.8,259.8 894.5,258.3 899.3,257.8C904.1,257.3 909.6,258.3 915.8,258.8C922.0,259.3 929.5,260.2 936.3,260.9C943.1,261.6 949.9,262.6 956.8,262.9C963.6,263.2 971.2,263.1 977.4,262.9C983.6,262.7 989.3,261.9 993.8,261.9C998.2,261.9 1000.7,261.7 1004.1,262.9C1007.5,264.1 1010.5,266.5 1014.3,269.1C1018.1,271.7 1022.6,275.9 1026.7,278.3C1030.8,280.7 1033.5,282.2 1039.0,283.4C1044.5,284.6 1052.7,285.0 1059.5,285.5C1066.3,286.0 1071.7,286.3 1080.1,286.5C1088.5,286.7 1104.9,286.5 1109.9,286.5" stroke="#ff0000"/>
<path d="M776.1,506.8C778.1,507.1 784.3,507.5 788.4,508.9C792.5,510.3 797.2,512.8 800.8,515.0C804.4,517.2 807.3,519.5 810.0,522.0C812.7,524.5 814.4,527.2 817.0,530.0C819.6,532.8 821.9,534.7 825.4,538.5C828.9,542.3 833.6,548.8 837.7,552.9C841.8,557.0 845.9,560.5 850.0,563.1C854.1,565.7 857.6,567.4 862.4,568.3C867.2,569.2 872.6,568.5 878.8,568.3C884.9,568.1 893.1,566.9 899.3,567.2C905.5,567.5 910.3,568.9 915.8,570.3C921.3,571.7 927.1,574.0 932.2,575.5C937.3,577.0 941.8,579.6 946.6,579.6C951.4,579.6 955.9,576.9 961.0,575.5C966.1,574.1 972.6,571.8 977.4,571.3C982.2,570.8 985.6,571.7 989.7,572.4C993.8,573.1 997.2,574.6 1002.0,575.5C1006.8,576.4 1013.6,578.2 1018.4,577.5C1023.2,576.8 1026.3,574.7 1030.8,571.3C1035.3,567.9 1040.4,561.8 1045.2,557.0C1050.0,552.2 1055.1,547.1 1059.5,542.6C1063.9,538.1 1068.4,534.1 1071.8,530.3C1075.2,526.5 1078.0,522.9 1080.1,520.0C1082.2,517.1 1081.5,515.0 1084.2,513.0C1086.9,511.0 1092.2,509.2 1096.5,507.8C1100.8,506.4 1107.7,505.2 1109.9,504.7" stroke="#000000"/>
<path d="M776.1,557.0C777.4,557.8 781.2,559.4 784.0,562.0C786.8,564.6 790.6,569.1 793.1,572.9C795.6,576.7 797.0,581.0 799.0,585.0C801.0,589.0 803.2,592.8 805.2,597.1C807.2,601.4 809.0,606.5 811.0,611.0C813.0,615.5 815.5,620.3 817.3,624.3C819.1,628.3 820.6,631.7 822.0,635.0C823.4,638.3 824.2,640.1 825.4,644.1C826.6,648.1 828.0,654.9 829.4,659.0C830.8,663.1 832.9,666.8 834.0,669.0C835.1,671.2 835.7,671.5 836.0,672.0" stroke="#000000"/>
<path d="M776.1,507.5C777.4,508.8 781.7,512.1 784.0,515.0C786.3,517.9 788.1,521.1 790.1,524.6C792.1,528.1 794.0,532.0 796.0,536.0C798.0,540.0 800.4,544.8 802.2,548.8C804.0,552.8 805.5,556.5 807.0,560.0C808.5,563.5 809.8,566.9 811.3,569.5C812.8,572.1 814.5,573.9 816.0,575.5C817.5,577.1 818.3,577.2 820.0,579.0C821.7,580.8 824.2,583.8 826.0,586.0C827.8,588.2 829.0,590.2 830.8,592.0C832.6,593.8 834.8,595.5 837.0,597.0C839.2,598.5 840.4,599.7 844.3,601.0C848.2,602.3 855.0,604.0 860.4,605.0C865.8,606.0 870.8,606.5 876.6,607.1C882.5,607.7 889.9,608.1 895.5,608.4C901.1,608.7 905.9,609.0 910.0,609.1C914.1,609.2 916.5,610.1 919.9,609.3C923.2,608.5 926.3,606.1 930.1,604.2C933.9,602.3 938.4,599.5 942.5,598.0C946.6,596.5 950.3,595.5 954.8,595.0C959.2,594.5 964.1,594.8 969.2,595.0C974.3,595.2 980.1,595.6 985.6,596.0C991.1,596.4 996.5,597.3 1002.0,597.6C1007.5,597.9 1013.6,598.2 1018.4,598.0C1023.2,597.8 1026.3,596.5 1030.8,596.2C1035.3,595.9 1041.6,596.5 1045.5,596.2C1049.4,596.0 1051.4,596.1 1054.4,594.7C1057.4,593.4 1060.3,590.9 1063.3,588.1C1066.2,585.3 1069.4,581.2 1072.1,577.7C1074.8,574.2 1077.2,570.4 1079.5,567.4C1081.8,564.4 1083.8,561.8 1086.0,560.0C1088.2,558.2 1090.5,557.4 1093.0,556.5C1095.5,555.6 1097.9,555.2 1100.7,554.8C1103.5,554.4 1108.2,554.0 1109.7,553.9" stroke="#000000"/>
<path d="M776.1,555.5C777.4,555.7 781.7,556.1 784.0,556.5C786.3,556.9 788.1,556.7 790.1,557.8C792.1,558.9 794.0,561.0 796.0,563.0C798.0,565.0 799.9,567.2 802.2,569.9C804.5,572.6 807.5,576.3 810.0,579.0C812.5,581.7 814.7,584.1 817.0,586.0C819.3,587.9 822.1,589.4 824.0,590.5C825.9,591.6 826.1,590.8 828.1,592.5C830.1,594.2 833.1,597.3 836.2,601.0C839.4,604.7 843.4,610.0 847.0,614.5C850.6,619.0 854.1,624.0 857.7,628.0C861.3,632.0 864.9,635.8 868.5,638.7C872.1,641.6 875.2,643.7 879.3,645.5C883.3,647.3 888.8,649.0 892.8,649.5C896.8,650.0 900.0,650.1 903.6,648.8C907.2,647.4 910.6,643.3 914.3,641.4C918.0,639.5 922.3,637.5 926.0,637.1C929.7,636.7 932.2,637.4 936.3,639.1C940.4,640.8 945.9,644.5 950.7,647.3C955.5,650.0 960.0,653.7 965.1,655.6C970.2,657.5 976.0,658.3 981.5,658.6C987.0,658.9 993.1,658.5 997.9,657.6C1002.7,656.8 1007.2,655.5 1010.2,653.5C1013.2,651.5 1013.1,648.5 1016.0,645.7C1018.9,642.9 1023.9,640.5 1027.8,636.8C1031.7,633.1 1035.6,628.2 1039.6,623.5C1043.5,618.8 1047.5,613.6 1051.5,608.7C1055.5,603.8 1059.9,598.4 1063.3,594.0C1066.7,589.6 1069.5,586.0 1072.1,582.2C1074.7,578.4 1077.2,574.7 1079.0,571.0C1080.8,567.3 1081.8,564.2 1083.0,560.0C1084.2,555.8 1085.3,550.6 1086.5,546.0C1087.7,541.4 1088.4,537.0 1089.9,532.3C1091.4,527.6 1093.2,522.1 1095.3,517.9C1097.4,513.7 1100.1,509.5 1102.5,507.1C1104.9,504.7 1108.5,504.1 1109.7,503.5" stroke="#000000"/>
<path d="M1109.7,557.5C1108.5,558.1 1104.9,559.0 1102.5,561.1C1100.1,563.2 1097.4,566.2 1095.3,570.0C1093.2,573.8 1091.4,580.2 1090.0,584.0C1088.6,587.8 1088.4,588.1 1086.9,592.5C1085.4,596.9 1083.0,604.3 1081.0,610.2C1079.0,616.1 1077.3,622.1 1075.1,628.0C1072.9,633.9 1070.2,639.8 1067.7,645.7C1065.2,651.6 1062.2,659.0 1060.3,663.4C1058.3,667.8 1056.7,670.6 1056.0,672.0" stroke="#000000"/>
<path d="M776.1,637.1C778.1,637.3 784.3,637.1 788.4,638.1C792.5,639.1 797.4,640.6 800.8,643.2C804.2,645.8 806.3,650.4 809.0,653.5C811.7,656.6 814.5,659.7 817.2,661.7C819.9,663.8 822.4,664.6 825.4,665.8C828.4,667.0 833.4,668.5 835.0,669.0" stroke="#000000"/>
<path d="M790.0,669.0C792.5,668.5 800.4,666.4 804.9,666.2C809.4,666.0 815.2,667.7 817.2,668.0" stroke="#000000"/>
<path d="M1109.9,637.1C1107.7,637.3 1100.5,637.4 1096.5,638.1C1092.5,638.8 1089.3,639.0 1086.2,641.2C1083.1,643.4 1080.7,647.6 1078.0,651.4C1075.3,655.2 1071.8,660.9 1069.8,663.8C1067.8,666.7 1066.4,668.1 1065.7,669.0" stroke="#000000"/>
<path d="M1092.0,669.0L1109.9,666.5" stroke="#000000"/>
<path d="M940.0,671.0C941.1,670.5 943.1,669.4 946.6,667.9C950.1,666.4 956.5,663.1 961.0,661.7C965.5,660.3 969.2,659.5 973.3,659.7C977.4,659.9 981.8,661.5 985.6,662.9C989.4,664.3 993.2,666.5 995.9,667.9C998.6,669.2 1001.0,670.5 1002.0,671.0" stroke="#000000"/>
<path d="M776.1,452.5C777.4,453.1 781.7,454.6 784.0,456.0C786.3,457.4 788.1,458.9 790.1,461.1C792.1,463.3 794.0,466.0 796.0,469.0C798.0,472.0 800.0,475.5 802.2,479.3C804.4,483.1 806.5,487.5 809.0,492.0C811.5,496.5 814.6,502.0 817.3,506.5C820.0,511.0 822.5,515.0 825.0,519.0C827.5,523.0 829.9,526.8 832.4,530.6C834.9,534.4 837.5,538.5 840.0,542.0C842.5,545.5 845.0,548.8 847.5,551.8C850.0,554.8 852.5,557.5 855.0,560.0C857.5,562.5 859.8,564.8 862.6,566.9C865.4,569.0 869.3,571.0 872.0,572.9C874.7,574.8 874.9,576.9 878.8,578.5C882.7,580.1 890.4,581.7 895.2,582.6C900.0,583.5 902.8,582.8 907.6,583.7C912.4,584.6 918.5,586.8 924.0,587.8C929.5,588.8 934.9,589.8 940.4,589.8C945.9,589.8 951.3,588.5 956.8,587.8C962.3,587.1 967.8,586.1 973.3,585.7C978.8,585.4 984.9,586.2 989.7,585.7C994.5,585.2 997.9,584.1 1002.0,582.6C1006.1,581.1 1010.2,579.4 1014.3,576.5C1018.4,573.6 1023.1,568.4 1026.7,565.2C1030.3,562.0 1033.0,560.9 1036.0,557.5C1039.0,554.1 1042.0,549.1 1045.0,544.9C1048.0,540.7 1051.0,536.5 1054.0,532.3C1057.0,528.1 1060.0,524.2 1063.0,519.7C1066.0,515.2 1069.0,510.4 1072.0,505.3C1075.0,500.2 1078.2,494.2 1080.9,489.1C1083.6,484.0 1085.7,479.0 1088.1,474.8C1090.5,470.6 1092.9,467.0 1095.3,464.0C1097.7,461.0 1100.1,458.6 1102.5,456.8C1104.9,455.0 1108.5,453.8 1109.7,453.2" stroke="#ff0000"/>
<path d="M776.1,496.5C777.4,497.1 781.7,498.9 784.0,500.0C786.3,501.1 788.1,501.7 790.1,503.4C792.1,505.1 794.0,507.5 796.0,510.0C798.0,512.5 800.2,515.5 802.2,518.5C804.2,521.5 806.0,524.5 808.0,528.0C810.0,531.5 812.3,535.9 814.3,539.7C816.3,543.5 818.0,547.0 820.0,551.0C822.0,555.0 824.4,559.9 826.4,563.9C828.4,567.9 830.0,571.5 832.0,575.0C834.0,578.5 836.5,582.0 838.5,585.0C840.5,588.0 842.0,590.5 844.0,593.0C846.0,595.5 848.6,598.1 850.6,600.1C852.6,602.1 854.0,603.5 856.0,605.0C858.0,606.5 859.9,607.8 862.6,609.2C865.3,610.7 867.9,611.8 872.0,613.7C876.1,615.6 882.5,618.2 887.0,620.6C891.5,623.0 894.5,626.8 899.3,627.8C904.1,628.8 909.6,627.1 915.8,626.8C922.0,626.5 930.1,625.8 936.3,625.8C942.4,625.8 947.2,626.3 952.7,626.8C958.2,627.3 963.7,628.9 969.2,628.9C974.7,628.9 980.1,627.5 985.6,626.8C991.1,626.1 997.2,625.4 1002.0,624.7C1006.8,624.0 1012.0,622.9 1014.3,622.7C1016.6,622.5 1014.4,624.0 1016.0,623.5C1017.6,623.0 1021.3,621.2 1024.0,620.0C1026.7,618.8 1029.9,617.6 1032.2,616.1C1034.5,614.6 1036.0,613.0 1038.0,611.0C1040.0,609.0 1042.3,606.6 1044.1,604.3C1045.9,602.0 1047.5,599.5 1049.0,597.0C1050.5,594.5 1051.6,592.2 1052.9,589.5C1054.2,586.8 1055.8,583.5 1057.0,581.0C1058.2,578.5 1059.1,577.5 1060.3,574.8C1061.5,572.1 1063.0,568.1 1064.0,565.0C1065.0,561.9 1065.6,559.0 1066.6,556.0C1067.6,553.0 1068.5,550.0 1070.0,547.0C1071.5,544.0 1073.2,542.0 1075.6,537.7C1078.0,533.5 1081.5,526.6 1084.5,521.5C1087.5,516.4 1090.5,510.9 1093.5,507.1C1096.5,503.4 1099.8,500.6 1102.5,499.0C1105.2,497.4 1108.5,497.5 1109.7,497.2" stroke="#ff0000"/>
<path d="M776.1,545.8C777.5,546.1 781.6,546.5 784.3,547.9C787.0,549.3 789.8,551.8 792.5,554.0C795.2,556.2 797.7,556.8 800.8,561.1C803.9,565.4 807.6,572.8 811.0,579.6C814.4,586.5 817.9,594.0 821.3,602.2C824.7,610.4 828.2,620.4 831.6,628.9C835.0,637.4 838.9,646.3 841.8,653.5C844.7,660.7 847.8,668.9 849.0,672.0" stroke="#ff0000"/>
<path d="M1109.9,545.8C1108.7,546.2 1105.2,546.9 1102.5,548.5C1099.8,550.1 1096.5,552.4 1093.5,555.7C1090.5,559.0 1086.9,564.7 1084.5,568.2C1082.1,571.8 1080.6,574.2 1079.0,577.0C1077.4,579.8 1076.7,581.0 1075.1,585.1C1073.5,589.2 1071.2,596.2 1069.2,601.4C1067.2,606.6 1065.3,611.2 1063.3,616.1C1061.3,621.0 1059.6,626.0 1057.4,630.9C1055.2,635.8 1052.7,641.0 1050.0,645.7C1047.3,650.4 1044.3,655.1 1041.1,659.0C1037.9,662.9 1033.0,667.1 1030.8,669.3C1028.6,671.5 1028.5,671.5 1028.0,672.0" stroke="#ff0000"/>
<path d="M776.1,649.4C778.1,649.9 784.3,650.5 788.4,652.5C792.5,654.5 797.0,658.8 800.8,661.7C804.6,664.6 809.0,668.2 811.0,669.9C813.0,671.6 812.7,671.6 813.0,672.0" stroke="#ff0000"/>
<path d="M776.1,661.7C777.5,662.1 781.6,662.4 784.3,663.8C787.0,665.2 790.9,668.5 792.5,669.9C794.1,671.3 793.8,671.6 794.0,672.0" stroke="#ff0000"/>
<path d="M1109.9,649.4C1107.7,649.9 1100.8,650.5 1096.5,652.5C1092.2,654.5 1088.0,658.8 1084.2,661.7C1080.4,664.6 1075.9,668.2 1073.9,669.9C1071.9,671.6 1072.3,671.6 1072.0,672.0" stroke="#ff0000"/>
<path d="M1109.9,663.8C1108.4,664.3 1102.8,665.9 1100.6,666.9C1098.4,667.9 1097.4,669.1 1096.5,670.0C1095.6,670.9 1095.2,671.7 1095.0,672.0" stroke="#ff0000"/>
<path d="M885.0,672.0C886.0,671.6 888.0,670.8 891.1,669.9C894.2,669.0 898.6,667.4 903.4,666.9C908.2,666.4 914.4,666.4 919.9,666.9C925.4,667.4 932.9,669.0 936.3,669.9C939.6,670.8 939.4,671.6 940.0,672.0" stroke="#ff0000"/>
</g>
<g clip-path="url(#c3)" fill="none" stroke-width="5.4" stroke-linecap="round" stroke-linejoin="round">
<path d="M1140.1,96.6C1142.7,96.9 1150.2,97.0 1155.5,98.7C1160.8,100.4 1166.5,103.5 1172.0,106.9C1177.5,110.3 1182.9,114.8 1188.4,119.2C1193.9,123.7 1199.3,128.8 1204.8,133.6C1210.3,138.4 1216.1,144.2 1221.3,148.0C1226.5,151.8 1231.2,155.9 1235.7,156.2C1240.2,156.5 1244.2,151.6 1248.0,150.0C1251.8,148.4 1254.5,147.8 1258.3,146.9C1262.1,146.1 1266.5,146.4 1270.6,144.9C1274.7,143.4 1278.5,140.9 1282.9,137.7C1287.4,134.4 1292.5,129.8 1297.3,125.4C1302.1,121.0 1306.6,114.8 1311.7,111.0C1316.8,107.2 1323.3,104.0 1328.1,102.8C1332.9,101.6 1335.6,102.6 1340.4,103.8C1345.2,105.0 1351.4,108.3 1356.9,110.0C1362.4,111.7 1367.8,113.6 1373.3,114.1C1378.8,114.6 1384.2,113.7 1389.7,113.0C1395.2,112.3 1400.6,111.3 1406.1,109.9C1411.6,108.5 1417.1,106.3 1422.6,104.8C1428.1,103.3 1433.5,101.9 1439.0,100.7C1444.5,99.5 1450.2,98.3 1455.5,97.6C1460.8,96.8 1468.3,96.4 1470.9,96.2" stroke="#000000"/>
<path d="M1140.1,96.6C1142.0,98.0 1147.5,100.7 1151.4,104.8C1155.4,108.9 1159.7,115.4 1163.8,121.2C1167.9,127.0 1172.0,133.9 1176.1,139.7C1180.2,145.5 1184.3,151.8 1188.4,156.2C1192.5,160.6 1196.6,163.8 1200.7,166.4C1204.8,169.0 1209.7,170.9 1213.1,171.6C1216.5,172.3 1217.5,172.2 1221.3,170.5C1225.1,168.8 1231.2,161.8 1235.7,161.3C1240.2,160.8 1244.2,165.6 1248.0,167.5C1251.8,169.4 1253.8,171.8 1258.3,172.6C1262.8,173.4 1269.2,172.9 1274.7,172.6C1280.2,172.2 1285.6,171.3 1291.1,170.5C1296.6,169.7 1302.1,168.3 1307.6,167.5C1313.1,166.7 1318.5,165.9 1324.0,165.4C1329.5,164.9 1334.9,164.2 1340.4,164.4C1345.9,164.6 1351.8,165.0 1356.9,166.4C1362.0,167.8 1366.4,170.2 1371.2,172.6C1376.0,175.0 1380.8,178.1 1385.6,180.8C1390.4,183.5 1395.5,186.2 1400.0,189.0C1404.5,191.8 1407.8,194.9 1412.3,197.3C1416.8,199.7 1421.6,201.5 1426.7,203.4C1431.8,205.3 1438.0,207.1 1443.1,208.5C1448.2,209.9 1452.9,210.9 1457.5,211.6C1462.1,212.3 1468.7,212.5 1470.9,212.7" stroke="#000000"/>
<path d="M1470.9,97.6C1468.3,98.8 1460.1,101.2 1455.5,104.8C1450.9,108.4 1447.2,113.4 1443.1,119.2C1439.0,125.0 1434.9,132.2 1430.8,139.7C1426.7,147.2 1422.3,157.2 1418.5,164.4C1414.7,171.6 1411.6,178.5 1408.2,182.9C1404.8,187.3 1401.4,189.4 1398.0,191.1C1394.6,192.8 1391.1,193.3 1387.7,193.1C1384.3,192.9 1381.2,192.1 1377.4,190.1C1373.6,188.1 1369.2,183.9 1365.1,180.8C1361.0,177.7 1356.8,173.8 1352.7,171.6C1348.6,169.4 1344.2,168.4 1340.4,167.5C1336.7,166.6 1334.3,166.4 1330.2,166.4C1326.1,166.4 1321.0,166.5 1315.8,167.5C1310.6,168.5 1304.8,170.4 1299.3,172.6C1293.8,174.8 1288.4,178.9 1282.9,180.8C1277.4,182.7 1272.0,183.2 1266.5,183.9C1261.0,184.6 1255.5,184.9 1250.0,184.9C1244.5,184.9 1238.4,184.2 1233.6,183.9C1228.8,183.6 1225.4,182.4 1221.3,182.9C1217.2,183.4 1213.1,185.3 1209.0,187.0C1204.9,188.7 1200.7,191.0 1196.6,193.1C1192.5,195.2 1188.8,197.2 1184.3,199.3C1179.8,201.4 1174.7,203.8 1169.9,205.5C1165.1,207.2 1160.5,208.8 1155.5,209.6C1150.5,210.4 1142.7,210.4 1140.1,210.6" stroke="#000000"/>
<path d="M1140.1,214.7C1144.4,214.1 1156.4,212.1 1165.8,211.0C1175.2,209.9 1186.3,209.0 1196.6,208.0C1206.9,207.0 1217.1,205.9 1227.4,204.9C1237.7,203.9 1250.4,202.4 1258.3,201.8C1266.2,201.2 1267.9,200.9 1274.7,201.3C1281.5,201.7 1291.8,203.2 1299.3,204.0C1306.8,204.8 1313.1,205.9 1319.9,206.4C1326.8,206.9 1333.6,207.3 1340.4,207.0C1347.2,206.7 1354.2,205.0 1361.0,204.4C1367.8,203.8 1374.7,202.6 1381.5,203.4C1388.3,204.2 1395.2,207.3 1402.1,209.0C1408.9,210.7 1415.8,212.5 1422.6,213.6C1429.4,214.7 1435.0,215.3 1443.1,215.7C1451.1,216.0 1466.3,215.7 1470.9,215.7" stroke="#000000"/>
<path d="M1140.1,96.6C1142.7,97.6 1150.2,99.0 1155.5,102.8C1160.8,106.6 1166.5,112.7 1172.0,119.2C1177.5,125.7 1182.9,133.9 1188.4,141.8C1193.9,149.7 1199.3,158.5 1204.8,166.4C1210.3,174.3 1216.1,182.7 1221.3,189.0C1226.5,195.3 1230.9,202.5 1235.7,204.4C1240.5,206.3 1245.2,201.5 1250.0,200.3C1254.8,199.1 1260.3,198.5 1264.4,197.3C1268.5,196.1 1270.9,195.8 1274.7,193.1C1278.5,190.3 1282.9,184.9 1287.0,180.8C1291.1,176.7 1295.2,172.1 1299.3,168.5C1303.4,164.9 1306.9,161.5 1311.7,159.3C1316.5,157.1 1323.3,155.4 1328.1,155.1C1332.9,154.8 1335.6,156.0 1340.4,157.2C1345.2,158.4 1351.4,160.8 1356.9,162.3C1362.4,163.8 1367.8,166.1 1373.3,166.4C1378.8,166.8 1384.2,166.1 1389.7,164.4C1395.2,162.7 1400.6,160.3 1406.1,156.2C1411.6,152.1 1417.1,145.5 1422.6,139.7C1428.1,133.9 1433.5,127.0 1439.0,121.2C1444.5,115.4 1450.2,108.9 1455.5,104.8C1460.8,100.7 1468.3,98.0 1470.9,96.6" stroke="#ff0000"/>
<path d="M1140.1,209.5C1142.7,210.0 1150.2,211.0 1155.5,212.6C1160.8,214.2 1166.5,216.4 1172.0,218.8C1177.5,221.2 1182.9,225.1 1188.4,227.0C1193.9,228.9 1199.3,230.6 1204.8,230.1C1210.3,229.6 1216.1,226.0 1221.3,223.9C1226.5,221.8 1230.9,218.0 1235.7,217.7C1240.5,217.3 1244.9,220.9 1250.0,221.8C1255.1,222.7 1261.0,223.2 1266.5,222.9C1272.0,222.6 1277.4,221.0 1282.9,219.8C1288.4,218.6 1293.8,217.1 1299.3,215.7C1304.8,214.3 1310.3,212.5 1315.8,211.6C1321.3,210.7 1326.7,210.2 1332.2,210.5C1337.7,210.8 1343.1,211.9 1348.6,213.6C1354.1,215.3 1359.6,218.2 1365.1,220.8C1370.6,223.4 1376.0,226.1 1381.5,229.0C1387.0,231.9 1392.5,235.6 1398.0,238.3C1403.5,241.1 1408.9,242.9 1414.4,245.5C1419.9,248.1 1424.6,251.3 1430.8,253.7C1437.0,256.1 1444.7,258.3 1451.4,259.8C1458.1,261.3 1467.7,262.4 1470.9,262.9" stroke="#ff0000"/>
<path d="M1470.9,209.5C1467.7,209.8 1457.4,210.0 1451.4,211.6C1445.4,213.2 1439.7,216.2 1434.9,218.8C1430.1,221.4 1426.7,223.9 1422.6,227.0C1418.5,230.1 1413.7,234.8 1410.3,237.2C1406.9,239.6 1405.5,239.8 1402.1,241.4C1398.7,243.0 1393.8,245.5 1389.7,246.5C1385.6,247.5 1381.5,248.0 1377.4,247.5C1373.3,247.0 1369.2,245.5 1365.1,243.4C1361.0,241.3 1356.8,237.6 1352.7,235.2C1348.6,232.8 1344.5,230.2 1340.4,229.0C1336.3,227.8 1332.2,227.8 1328.1,228.0C1324.0,228.2 1320.6,229.0 1315.8,230.0C1311.0,231.0 1304.8,232.8 1299.3,234.2C1293.8,235.6 1288.4,237.3 1282.9,238.3C1277.4,239.3 1272.0,240.3 1266.5,240.3C1261.0,240.3 1255.5,239.0 1250.0,238.3C1244.5,237.6 1239.1,236.4 1233.6,236.2C1228.1,236.0 1223.4,235.6 1217.2,237.2C1211.0,238.8 1203.4,242.8 1196.6,245.5C1189.8,248.2 1182.9,251.3 1176.1,253.7C1169.2,256.1 1161.5,258.3 1155.5,259.8C1149.5,261.3 1142.7,262.4 1140.1,262.9" stroke="#ff0000"/>
<path d="M1140.1,275.3C1144.4,275.1 1156.4,275.1 1165.8,274.2C1175.2,273.3 1186.3,271.8 1196.6,270.1C1206.9,268.4 1218.5,266.1 1227.4,264.0C1236.3,261.9 1244.2,259.2 1250.0,257.8C1255.8,256.4 1257.6,255.9 1262.4,255.7C1267.2,255.5 1272.7,256.3 1278.8,256.8C1284.9,257.3 1292.4,258.1 1299.3,258.8C1306.2,259.5 1313.1,260.5 1319.9,260.9C1326.8,261.2 1333.6,261.1 1340.4,260.9C1347.2,260.7 1355.5,259.8 1361.0,259.8C1366.5,259.8 1369.2,260.0 1373.3,260.9C1377.4,261.8 1380.8,263.5 1385.6,265.0C1390.4,266.5 1395.9,268.7 1402.1,270.1C1408.3,271.5 1415.8,272.3 1422.6,273.2C1429.4,274.1 1435.0,274.9 1443.1,275.3C1451.1,275.7 1466.3,275.3 1470.9,275.3" stroke="#ff0000"/>
<path d="M1140.6,506.9C1142.0,507.0 1145.8,506.7 1149.1,507.6C1152.4,508.6 1156.6,510.4 1160.4,512.6C1164.2,514.9 1167.9,518.1 1171.7,521.1C1175.5,524.1 1179.2,527.6 1183.0,530.9C1186.8,534.2 1190.5,538.1 1194.3,540.8C1198.1,543.5 1201.8,545.9 1205.6,547.2C1209.4,548.5 1212.6,548.7 1216.9,548.6C1221.2,548.5 1226.0,547.5 1231.5,546.7C1237.0,545.9 1244.8,544.2 1250.0,543.6C1255.2,543.0 1257.6,542.6 1262.4,543.0C1267.2,543.4 1273.3,544.1 1278.8,545.7C1284.3,547.4 1290.1,551.0 1295.2,552.9C1300.3,554.8 1304.8,556.7 1309.6,557.0C1314.4,557.3 1318.9,555.9 1324.0,554.9C1329.1,553.9 1335.6,551.6 1340.4,550.8C1345.2,549.9 1347.9,549.6 1352.7,549.8C1357.5,550.0 1363.7,550.8 1369.2,551.8C1374.7,552.8 1380.8,555.4 1385.6,555.9C1390.4,556.4 1393.5,556.4 1398.0,554.9C1402.5,553.4 1407.2,550.5 1412.3,546.7C1417.4,542.9 1424.2,536.8 1428.7,532.3C1433.2,527.8 1434.5,524.0 1439.0,520.0C1443.5,516.0 1450.2,510.8 1455.5,508.3C1460.8,505.9 1468.3,505.8 1470.9,505.3" stroke="#000000"/>
<path d="M1140.6,508.3C1141.8,509.0 1145.3,510.5 1147.7,512.6C1150.1,514.7 1152.5,517.8 1154.8,521.1C1157.1,524.4 1159.4,528.5 1161.8,532.3C1164.2,536.0 1166.3,540.3 1168.9,543.6C1171.5,546.9 1174.0,549.9 1177.3,552.1C1180.6,554.3 1184.8,555.6 1188.6,557.0C1192.4,558.4 1196.1,559.1 1199.9,560.6C1203.7,562.1 1207.4,564.1 1211.2,566.2C1215.0,568.3 1218.7,570.9 1222.5,573.3C1226.3,575.6 1230.0,578.4 1233.8,580.3C1237.6,582.2 1241.3,583.5 1245.1,584.6C1248.9,585.7 1252.2,586.3 1256.4,586.8C1260.7,587.3 1265.8,588.0 1270.6,587.8C1275.4,587.6 1280.2,587.4 1285.0,585.7C1289.8,584.0 1294.2,579.9 1299.3,577.5C1304.4,575.1 1310.3,572.2 1315.8,571.4C1321.3,570.5 1326.7,571.7 1332.2,572.4C1337.7,573.1 1343.1,574.5 1348.6,575.5C1354.1,576.5 1360.3,578.2 1365.1,578.5C1369.9,578.8 1373.0,578.7 1377.4,577.5C1381.9,576.3 1387.0,573.4 1391.8,571.4C1396.6,569.4 1401.0,566.9 1406.1,565.2C1411.2,563.5 1417.1,562.1 1422.6,561.1C1428.1,560.1 1433.5,559.0 1439.0,559.0C1444.5,559.0 1450.2,560.4 1455.5,561.1C1460.8,561.8 1468.3,562.8 1470.9,563.1" stroke="#000000"/>
<path d="M1140.6,563.4C1142.0,563.5 1145.8,563.2 1149.1,564.1C1152.4,565.0 1156.6,567.0 1160.4,569.0C1164.2,571.0 1167.9,573.7 1171.7,576.1C1175.5,578.5 1179.2,580.9 1183.0,583.2C1186.8,585.6 1191.0,587.9 1194.3,590.2C1197.6,592.6 1199.6,593.9 1202.7,597.3C1205.8,600.7 1209.0,607.0 1213.1,610.4C1217.2,613.8 1222.6,615.9 1227.4,617.6C1232.2,619.3 1236.7,619.9 1241.8,620.7C1246.9,621.6 1253.8,622.7 1258.3,622.7C1262.8,622.7 1265.1,622.1 1268.5,620.7C1271.9,619.3 1275.7,615.7 1278.8,614.5C1281.9,613.3 1283.6,612.5 1287.0,613.5C1290.4,614.5 1295.2,617.8 1299.3,620.7C1303.4,623.6 1307.6,628.0 1311.7,630.9C1315.8,633.8 1319.9,636.2 1324.0,638.1C1328.1,640.0 1331.5,641.3 1336.3,642.2C1341.1,643.1 1347.9,643.5 1352.7,643.3C1357.5,643.1 1361.0,642.6 1365.1,641.2C1369.2,639.8 1373.3,637.7 1377.4,635.0C1381.5,632.3 1385.6,628.6 1389.7,624.8C1393.8,621.0 1398.0,616.5 1402.1,612.4C1406.2,608.3 1410.3,604.2 1414.4,600.1C1418.5,596.0 1422.6,591.6 1426.7,587.8C1430.8,584.0 1434.9,580.6 1439.0,577.5C1443.1,574.4 1447.3,571.5 1451.4,569.3C1455.5,567.1 1460.5,565.2 1463.7,564.2C1467.0,563.2 1469.7,563.3 1470.9,563.1" stroke="#000000"/>
<path d="M1140.6,566.2C1142.0,566.9 1146.3,568.4 1149.1,570.5C1151.9,572.6 1154.8,575.9 1157.6,578.9C1160.4,581.9 1163.5,585.3 1166.1,588.8C1168.7,592.3 1170.8,596.4 1173.1,600.0C1175.4,603.6 1177.7,604.6 1180.2,610.4C1182.8,616.2 1185.7,627.8 1188.4,635.0C1191.1,642.2 1193.9,648.0 1196.6,653.5C1199.3,659.0 1203.1,664.8 1204.8,667.9C1206.5,671.0 1206.6,671.3 1207.0,672.0" stroke="#000000"/>
<path d="M1140.1,598.1C1142.7,598.8 1151.2,599.1 1155.5,602.2C1159.8,605.3 1162.4,611.0 1165.8,616.5C1169.2,622.0 1172.7,630.5 1176.1,635.0C1179.5,639.5 1182.0,640.9 1186.4,643.3C1190.9,645.7 1197.0,647.7 1202.8,649.4C1208.6,651.1 1215.5,653.0 1221.3,653.5C1227.1,654.0 1231.5,653.2 1237.7,652.5C1243.9,651.8 1251.5,648.9 1258.3,649.4C1265.1,649.9 1272.6,654.9 1278.8,655.6C1285.0,656.3 1289.7,654.7 1295.2,653.5C1300.7,652.3 1306.2,649.9 1311.7,648.4C1317.2,646.9 1323.3,645.1 1328.1,644.3C1332.9,643.4 1335.6,642.8 1340.4,643.3C1345.2,643.8 1352.1,646.0 1356.9,647.4C1361.7,648.8 1364.4,650.5 1369.2,651.5C1374.0,652.5 1380.1,652.8 1385.6,653.5C1391.1,654.2 1397.2,655.2 1402.1,655.6C1407.0,656.0 1411.2,656.3 1415.0,656.0C1418.8,655.7 1421.5,654.8 1425.0,654.0C1428.5,653.2 1431.6,652.3 1435.7,651.2C1439.8,650.1 1443.7,648.2 1449.6,647.2C1455.5,646.2 1467.4,645.5 1470.9,645.2" stroke="#000000"/>
<path d="M1470.9,599.3C1468.7,599.7 1461.0,599.5 1457.5,601.5C1454.0,603.5 1452.2,607.2 1449.6,611.5C1446.9,615.8 1444.2,622.1 1441.6,627.4C1438.9,632.7 1436.7,638.0 1433.7,643.3C1430.7,648.6 1426.7,654.6 1423.7,659.2C1420.7,663.8 1417.1,669.1 1415.8,671.1" stroke="#000000"/>
<path d="M1140.1,645.3C1142.7,645.1 1150.5,644.3 1155.5,644.3C1160.5,644.3 1165.1,644.1 1169.9,645.3C1174.7,646.5 1179.8,649.1 1184.3,651.5C1188.8,653.9 1192.5,657.3 1196.6,659.7C1200.7,662.1 1204.9,664.3 1209.0,665.8C1213.1,667.3 1217.5,668.1 1221.3,668.5C1225.1,668.9 1228.0,667.8 1232.0,668.0C1236.0,668.2 1242.8,669.7 1245.0,670.0" stroke="#000000"/>
<path d="M1451.4,569.3C1450.2,570.6 1446.0,574.3 1444.0,577.0C1442.0,579.7 1441.3,581.8 1439.6,585.6C1437.9,589.4 1435.7,595.4 1434.0,600.0C1432.3,604.6 1431.4,608.4 1429.7,613.4C1428.0,618.4 1425.7,625.0 1424.0,630.0C1422.3,635.0 1421.3,638.6 1419.8,643.3C1418.3,648.0 1416.3,653.4 1415.0,658.0C1413.7,662.6 1412.3,668.9 1411.8,671.1" stroke="#000000"/>
<path d="M1295.0,671.0C1297.5,670.3 1305.0,668.0 1310.0,667.0C1315.0,666.0 1320.0,664.8 1325.0,665.0C1330.0,665.2 1335.5,667.0 1340.0,668.0C1344.5,669.0 1350.0,670.5 1352.0,671.0" stroke="#000000"/>
<path d="M1140.1,667.0C1141.8,667.3 1147.0,668.2 1150.0,669.0C1153.0,669.8 1156.7,671.5 1158.0,672.0" stroke="#000000"/>
<path d="M1140.1,467.2C1142.0,468.2 1147.6,469.9 1151.4,473.1C1155.2,476.3 1159.2,481.5 1163.0,486.6C1166.8,491.7 1170.7,498.4 1174.5,503.9C1178.3,509.4 1181.9,514.2 1186.1,519.4C1190.3,524.5 1195.1,530.0 1199.6,534.8C1204.1,539.6 1208.9,544.4 1213.1,548.3C1217.3,552.1 1220.8,555.1 1224.6,557.9C1228.4,560.7 1232.6,563.6 1236.0,565.2C1239.4,566.8 1241.6,567.0 1245.0,567.5C1248.4,568.0 1253.5,568.0 1256.4,568.3C1259.3,568.6 1258.7,568.4 1262.4,569.3C1266.1,570.1 1273.3,572.0 1278.8,573.4C1284.3,574.8 1289.7,576.6 1295.2,577.5C1300.7,578.4 1306.2,578.7 1311.7,578.5C1317.2,578.3 1323.3,577.0 1328.1,576.5C1332.9,576.0 1335.6,575.9 1340.4,575.5C1345.2,575.1 1352.1,575.1 1356.9,574.4C1361.7,573.7 1365.1,573.3 1369.2,571.4C1373.3,569.5 1377.4,566.5 1381.5,563.1C1385.6,559.7 1389.7,554.9 1393.8,550.8C1397.9,546.7 1402.0,542.6 1406.1,538.5C1410.2,534.4 1415.1,529.8 1418.5,526.2C1421.9,522.6 1423.6,521.0 1426.7,517.0C1429.8,513.0 1432.9,508.1 1437.0,502.2C1441.1,496.3 1447.0,486.9 1451.4,481.6C1455.9,476.3 1460.5,472.7 1463.7,470.3C1467.0,467.9 1469.7,467.7 1470.9,467.2" stroke="#ff0000"/>
<path d="M1140.6,516.8C1142.2,517.3 1147.0,517.7 1150.5,519.6C1154.0,521.5 1158.3,525.0 1161.8,528.1C1165.3,531.2 1168.6,534.5 1171.7,538.0C1174.8,541.5 1177.4,545.3 1180.2,549.3C1183.0,553.3 1185.8,558.0 1188.6,562.0C1191.4,566.0 1194.3,569.8 1197.1,573.3C1199.9,576.8 1202.5,579.9 1205.6,583.2C1208.7,586.5 1212.0,590.4 1215.5,593.0C1219.0,595.6 1223.2,597.2 1226.7,599.0C1230.2,600.8 1233.5,602.3 1236.6,604.0C1239.6,605.7 1241.4,607.1 1245.0,609.0C1248.6,610.9 1252.7,614.4 1258.3,615.5C1263.9,616.6 1272.0,615.5 1278.8,615.5C1285.6,615.5 1292.4,615.3 1299.3,615.5C1306.2,615.7 1314.4,616.0 1319.9,616.5C1325.4,617.0 1327.4,618.6 1332.2,618.6C1337.0,618.6 1343.1,617.2 1348.6,616.5C1354.1,615.8 1359.6,615.5 1365.1,614.5C1370.6,613.5 1376.7,612.4 1381.5,610.4C1386.3,608.4 1389.7,606.0 1393.8,602.2C1397.9,598.4 1402.0,592.9 1406.1,587.8C1410.2,582.7 1414.4,576.9 1418.5,571.4C1422.6,565.9 1426.7,559.7 1430.8,554.9C1434.9,550.1 1439.0,545.3 1443.1,542.6C1447.2,539.9 1450.9,539.4 1455.5,538.5C1460.1,537.6 1468.3,537.7 1470.9,537.5" stroke="#ff0000"/>
<path d="M1140.6,538.0C1142.0,538.4 1146.3,538.7 1149.1,540.1C1151.9,541.5 1154.8,543.6 1157.6,546.5C1160.4,549.4 1163.5,553.7 1166.1,557.7C1168.7,561.7 1171.0,566.2 1173.1,570.5C1175.2,574.8 1177.1,579.0 1178.8,583.2C1180.5,587.4 1181.5,590.6 1183.0,595.9C1184.5,601.2 1186.0,608.0 1188.0,615.0C1190.0,622.0 1192.5,631.0 1195.0,638.0C1197.5,645.0 1200.2,652.0 1203.0,657.0C1205.8,662.0 1209.0,665.7 1212.0,668.0C1215.0,670.3 1218.0,670.8 1221.3,671.0C1224.5,671.2 1227.7,670.9 1231.5,669.0C1235.3,667.1 1239.4,663.0 1243.9,659.7C1248.4,656.4 1253.2,651.0 1258.3,649.4C1263.4,647.8 1269.2,649.4 1274.7,650.4C1280.2,651.4 1286.0,653.0 1291.1,655.6C1296.2,658.2 1301.4,663.1 1305.5,665.8C1309.6,668.5 1314.1,671.0 1315.8,672.0" stroke="#ff0000"/>
<path d="M1470.9,516.5C1469.0,517.6 1463.3,519.4 1459.5,523.0C1455.7,526.6 1451.9,532.3 1448.0,538.0C1444.1,543.7 1439.7,550.3 1436.0,557.0C1432.3,563.7 1429.0,571.2 1426.0,578.0C1423.0,584.8 1420.7,591.5 1418.0,598.0C1415.3,604.5 1412.7,611.3 1410.0,617.0C1407.3,622.7 1404.8,627.2 1402.0,632.0C1399.2,636.8 1396.2,641.8 1393.0,646.0C1389.8,650.2 1386.8,654.0 1383.0,657.0C1379.2,660.0 1374.7,661.8 1370.0,664.0C1365.3,666.2 1359.2,668.7 1355.0,670.0C1350.8,671.3 1346.7,671.7 1345.0,672.0" stroke="#ff0000"/>
<path d="M1470.9,537.5C1469.0,538.2 1463.0,539.2 1459.5,541.9C1456.0,544.6 1452.6,549.2 1449.6,553.8C1446.6,558.4 1444.2,563.1 1441.6,569.7C1438.9,576.3 1436.3,586.0 1433.7,593.6C1431.1,601.2 1428.4,608.1 1425.7,615.4C1423.0,622.7 1420.5,630.3 1417.8,637.3C1415.1,644.3 1412.1,651.6 1409.8,657.2C1407.5,662.8 1404.9,668.8 1403.9,671.1" stroke="#ff0000"/>
<path d="M1470.9,651.5C1468.3,651.8 1460.8,651.8 1455.5,653.5C1450.2,655.2 1444.5,658.6 1439.0,661.7C1433.5,664.8 1425.3,670.3 1422.6,672.0" stroke="#ff0000"/>
<path d="M1470.9,663.8C1469.0,664.5 1462.5,666.5 1459.6,667.9C1456.7,669.3 1454.4,671.3 1453.4,672.0" stroke="#ff0000"/>
<path d="M1140.1,651.5C1142.7,651.7 1150.2,651.1 1155.5,652.5C1160.8,653.9 1166.8,656.8 1172.0,659.7C1177.2,662.6 1183.7,668.0 1186.4,670.0C1189.1,672.0 1187.7,671.7 1188.0,672.0" stroke="#ff0000"/>
<path d="M1140.1,663.8C1142.0,664.3 1148.1,665.5 1151.4,666.9C1154.7,668.3 1158.3,671.1 1159.7,672.0" stroke="#ff0000"/>
</g>
<g clip-path="url(#c4)" fill="none" stroke-width="5.4" stroke-linecap="round" stroke-linejoin="round">
<path d="M1498.1,105.9C1500.0,107.1 1504.8,109.2 1509.4,113.1C1514.0,117.0 1520.4,123.7 1525.9,129.5C1531.4,135.3 1536.8,142.5 1542.3,148.0C1547.8,153.5 1553.2,157.9 1558.7,162.3C1564.2,166.8 1569.6,171.6 1575.1,174.7C1580.6,177.8 1586.1,179.3 1591.6,180.8C1597.1,182.3 1603.2,184.9 1608.0,183.9C1612.8,182.9 1615.5,179.0 1620.3,174.7C1625.1,170.4 1631.2,163.0 1636.7,158.2C1642.2,153.4 1647.7,148.6 1653.2,145.9C1658.7,143.2 1664.1,142.3 1669.6,141.8C1675.1,141.3 1680.5,141.8 1686.0,142.8C1691.5,143.8 1696.9,146.4 1702.4,148.0C1707.9,149.6 1713.4,151.6 1718.9,152.1C1724.4,152.6 1729.8,152.8 1735.3,151.1C1740.8,149.4 1746.2,145.8 1751.7,141.8C1757.2,137.9 1762.7,132.2 1768.2,127.4C1773.7,122.6 1779.8,116.5 1784.6,113.1C1789.4,109.7 1794.0,108.1 1796.9,106.9C1799.8,105.7 1801.2,106.1 1802.0,105.9" stroke="#ff0000"/>
<path d="M1498.1,203.3C1502.4,203.8 1514.7,205.2 1523.8,206.4C1532.9,207.6 1544.6,210.5 1552.5,210.5C1560.4,210.5 1564.5,208.3 1571.0,206.4C1577.5,204.5 1585.4,201.1 1591.6,199.2C1597.8,197.3 1602.5,194.6 1608.0,195.1C1613.5,195.6 1617.6,200.1 1624.4,202.3C1631.2,204.5 1640.2,207.1 1649.1,208.5C1658.0,209.9 1669.6,209.7 1677.8,210.5C1686.0,211.3 1692.1,212.4 1698.3,213.6C1704.5,214.8 1709.3,216.8 1714.8,217.7C1720.3,218.5 1725.7,219.4 1731.2,218.7C1736.7,218.0 1741.4,215.6 1747.6,213.6C1753.8,211.6 1759.1,208.1 1768.2,206.4C1777.3,204.7 1796.4,203.8 1802.0,203.3" stroke="#ff0000"/>
<path d="M1498.1,241.3C1502.4,240.8 1515.1,239.7 1523.8,238.3C1532.5,236.9 1542.6,234.3 1550.5,233.1C1558.4,231.9 1564.2,231.3 1571.0,231.1C1577.8,230.9 1584.8,231.6 1591.6,232.1C1598.4,232.6 1605.3,234.1 1612.1,234.1C1618.9,234.1 1625.8,233.3 1632.6,232.1C1639.4,230.9 1646.3,228.4 1653.2,227.0C1660.1,225.6 1667.6,224.2 1673.7,223.9C1679.8,223.6 1683.9,224.4 1690.1,224.9C1696.3,225.4 1703.8,226.2 1710.7,227.0C1717.6,227.8 1724.4,228.8 1731.2,230.0C1738.0,231.2 1744.2,232.5 1751.7,234.1C1759.2,235.7 1768.0,238.1 1776.4,239.3C1784.8,240.5 1797.7,241.0 1802.0,241.3" stroke="#ff0000"/>
<path d="M1498.1,255.7C1504.1,255.2 1521.3,253.3 1534.1,252.6C1546.9,251.8 1561.4,251.4 1575.1,251.2C1588.8,251.0 1602.5,251.5 1616.2,251.6C1629.9,251.7 1643.6,251.5 1657.3,251.6C1671.0,251.7 1684.6,251.7 1698.3,252.0C1712.0,252.3 1725.7,253.1 1739.4,253.7C1753.1,254.3 1770.1,255.4 1780.5,255.7C1790.9,256.0 1798.4,255.7 1802.0,255.7" stroke="#ff0000"/>
<path d="M1498.1,100.7C1500.7,101.0 1507.5,101.4 1513.5,102.8C1519.5,104.2 1527.2,106.3 1534.1,109.0C1540.9,111.7 1547.8,115.8 1554.6,119.2C1561.4,122.6 1568.9,126.8 1575.1,129.5C1581.3,132.2 1586.1,134.7 1591.6,135.7C1597.1,136.7 1603.2,137.1 1608.0,135.7C1612.8,134.3 1615.5,131.2 1620.3,127.4C1625.1,123.6 1631.2,117.5 1636.7,113.1C1642.2,108.6 1647.7,104.1 1653.2,100.7C1658.7,97.3 1664.8,93.9 1669.6,92.5C1674.4,91.1 1677.1,91.8 1681.9,92.5C1686.7,93.2 1692.8,94.9 1698.3,96.6C1703.8,98.3 1709.3,101.2 1714.8,102.8C1720.3,104.3 1725.0,105.6 1731.2,105.9C1737.4,106.2 1744.2,105.4 1751.7,104.9C1759.2,104.4 1768.0,103.3 1776.4,102.8C1784.8,102.3 1797.7,102.0 1802.0,101.8" stroke="#000000"/>
<path d="M1498.1,100.7C1500.0,102.1 1505.1,105.2 1509.4,109.0C1513.7,112.8 1519.0,118.5 1523.8,123.3C1528.6,128.1 1533.1,133.6 1538.2,137.7C1543.3,141.8 1549.1,145.8 1554.6,148.0C1560.1,150.2 1565.5,151.3 1571.0,151.1C1576.5,150.9 1581.7,148.2 1587.5,147.0C1593.3,145.8 1601.1,143.9 1605.9,143.9C1610.7,143.9 1611.8,144.9 1616.2,147.0C1620.7,149.1 1627.1,153.6 1632.6,156.2C1638.1,158.8 1643.6,160.8 1649.1,162.3C1654.6,163.8 1660.0,164.7 1665.5,165.4C1671.0,166.1 1676.4,166.2 1681.9,166.5C1687.4,166.8 1692.8,167.2 1698.3,167.5C1703.8,167.8 1709.7,168.7 1714.8,168.5C1719.9,168.3 1724.3,168.2 1729.1,166.5C1733.9,164.8 1738.7,162.0 1743.5,158.2C1748.3,154.4 1753.1,149.0 1757.9,143.9C1762.7,138.8 1767.5,132.9 1772.3,127.4C1777.1,121.9 1782.5,114.9 1786.6,111.0C1790.7,107.1 1794.3,105.2 1796.9,103.8C1799.5,102.4 1801.2,103.0 1802.0,102.8" stroke="#000000"/>
<path d="M1498.1,189.0C1501.3,188.8 1509.9,188.7 1517.6,188.0C1525.3,187.3 1535.4,185.9 1544.3,184.9C1553.2,183.9 1563.1,182.2 1571.0,181.9C1578.9,181.6 1584.8,182.6 1591.6,182.9C1598.4,183.2 1605.3,184.6 1612.1,183.9C1618.9,183.2 1625.8,180.9 1632.6,178.8C1639.4,176.8 1647.0,173.5 1653.2,171.6C1659.4,169.7 1664.8,168.3 1669.6,167.5C1674.4,166.7 1677.1,166.0 1681.9,166.5C1686.7,167.0 1692.1,169.1 1698.3,170.6C1704.5,172.1 1712.1,174.0 1718.9,175.7C1725.8,177.4 1732.6,179.1 1739.4,180.8C1746.2,182.5 1753.2,184.6 1760.0,186.0C1766.8,187.4 1773.5,188.3 1780.5,189.0C1787.5,189.7 1798.4,189.9 1802.0,190.1" stroke="#000000"/>
<path d="M1498.1,199.3C1501.3,199.0 1509.9,198.2 1517.6,197.3C1525.3,196.5 1535.4,194.5 1544.3,194.2C1553.2,193.8 1562.4,194.5 1571.0,195.2C1579.6,195.9 1587.5,197.8 1595.7,198.3C1603.9,198.8 1612.1,198.1 1620.3,198.3C1628.5,198.5 1636.8,198.8 1645.0,199.3C1653.2,199.8 1662.1,201.2 1669.6,201.4C1677.1,201.6 1683.2,201.0 1690.1,200.3C1696.9,199.6 1703.8,198.2 1710.7,197.3C1717.6,196.5 1723.7,195.5 1731.2,195.2C1738.7,194.8 1747.6,194.8 1755.8,195.2C1764.0,195.5 1772.8,197.0 1780.5,197.3C1788.2,197.7 1798.4,197.3 1802.0,197.3" stroke="#000000"/>
<path d="M1498.2,482.5C1500.8,483.1 1508.3,484.7 1513.8,486.0C1519.3,487.3 1525.9,488.6 1531.1,490.3C1536.3,492.0 1540.3,493.9 1544.9,496.3C1549.5,498.8 1554.2,501.5 1558.8,505.0C1563.4,508.5 1568.0,513.1 1572.6,517.1C1577.2,521.1 1581.9,525.7 1586.5,529.2C1591.1,532.7 1595.7,536.2 1600.3,537.9C1604.9,539.6 1609.5,538.9 1614.1,539.6C1618.7,540.3 1622.8,541.2 1628.0,542.2C1633.2,543.2 1640.1,545.0 1645.3,545.7C1650.5,546.4 1653.9,546.6 1659.1,546.5C1664.3,546.4 1670.6,545.8 1676.4,544.8C1682.2,543.8 1688.6,542.5 1693.8,540.5C1699.0,538.5 1703.0,536.0 1707.6,532.7C1712.2,529.4 1716.9,524.6 1721.5,520.6C1726.1,516.6 1730.7,512.2 1735.3,508.5C1739.9,504.8 1744.6,500.9 1749.2,498.1C1753.8,495.4 1758.4,493.4 1763.0,492.0C1767.6,490.6 1772.8,490.3 1776.8,489.4C1780.8,488.5 1783.0,487.8 1787.2,486.8C1791.4,485.8 1799.5,484.0 1801.9,483.4" stroke="#ff0000"/>
<path d="M1498.2,495.5C1500.2,495.9 1506.5,496.2 1510.3,498.1C1514.0,500.0 1517.2,502.4 1520.7,506.7C1524.2,511.0 1527.6,518.2 1531.1,524.0C1534.6,529.8 1538.0,535.8 1541.5,541.3C1545.0,546.8 1548.3,552.6 1551.8,556.9C1555.2,561.2 1558.2,564.4 1562.2,567.3C1566.2,570.1 1570.9,572.0 1576.1,574.0C1581.3,576.0 1587.6,577.2 1593.4,579.6C1599.2,582.0 1604.9,587.1 1610.7,588.3C1616.5,589.4 1622.2,586.8 1628.0,586.5C1633.8,586.2 1639.5,586.2 1645.3,586.5C1651.1,586.8 1658.0,587.6 1662.6,588.3C1667.2,589.0 1669.5,590.9 1673.0,590.9C1676.5,590.9 1678.8,588.9 1683.4,588.3C1688.0,587.7 1694.9,587.7 1700.7,587.4C1706.5,587.1 1712.8,587.5 1718.0,586.5C1723.2,585.5 1727.8,583.4 1731.8,581.3C1735.8,579.2 1739.2,576.7 1742.2,574.0C1745.2,571.3 1747.5,568.7 1750.0,565.0C1752.5,561.3 1754.8,556.2 1757.0,552.0C1759.2,547.8 1760.8,544.0 1763.0,540.0C1765.2,536.0 1767.6,532.0 1769.9,528.0C1772.2,524.0 1774.5,519.7 1776.8,516.0C1779.1,512.3 1781.5,509.0 1783.8,506.0C1786.1,503.0 1787.7,499.8 1790.7,498.0C1793.7,496.2 1800.0,495.9 1801.9,495.5" stroke="#ff0000"/>
<path d="M1498.2,548.3C1499.6,548.9 1503.9,549.7 1506.8,551.7C1509.7,553.7 1512.9,556.7 1515.5,560.4C1518.1,564.1 1519.5,568.5 1522.4,574.0C1525.3,579.5 1529.0,588.0 1532.8,593.5C1536.5,599.0 1540.6,603.3 1544.9,607.3C1549.2,611.3 1554.5,614.5 1558.8,617.7C1563.1,620.9 1566.9,623.7 1570.9,626.3C1574.9,628.9 1579.2,633.0 1583.0,633.3C1586.8,633.6 1589.9,630.7 1593.4,628.1C1596.9,625.5 1600.6,620.3 1603.8,617.7C1607.0,615.1 1609.0,612.2 1612.4,612.5C1615.9,612.8 1619.9,615.9 1624.5,619.4C1629.1,622.9 1634.6,629.0 1640.1,633.3C1645.6,637.6 1651.6,642.5 1657.4,645.4C1663.2,648.3 1668.9,650.3 1674.7,650.6C1680.5,650.9 1686.2,649.4 1692.0,647.1C1697.8,644.8 1703.5,639.9 1709.3,636.7C1715.1,633.5 1720.8,631.0 1726.6,628.1C1732.4,625.2 1738.7,622.3 1743.9,619.4C1749.1,616.5 1753.5,615.1 1757.8,610.8C1762.1,606.5 1766.7,599.0 1769.9,593.5C1773.1,588.0 1774.5,583.2 1776.8,578.0C1779.1,572.8 1781.2,566.5 1783.8,562.1C1786.4,557.7 1789.4,554.0 1792.4,551.7C1795.4,549.4 1800.3,548.9 1801.9,548.3" stroke="#ff0000"/>
<path d="M1498.2,640.2C1500.2,639.3 1506.0,636.3 1510.3,635.0C1514.6,633.7 1519.6,632.1 1524.2,632.4C1528.8,632.7 1533.7,634.2 1538.0,636.7C1542.3,639.2 1546.1,644.5 1550.1,647.1C1554.1,649.7 1558.5,651.7 1562.2,652.3C1566.0,652.9 1568.5,651.6 1572.6,650.6C1576.6,649.6 1582.5,646.2 1586.5,646.2C1590.5,646.2 1592.8,648.4 1596.8,650.6C1600.8,652.8 1606.1,658.2 1610.7,659.2C1615.3,660.2 1619.6,657.5 1624.5,656.6C1629.4,655.7 1634.6,653.3 1640.1,654.0C1645.6,654.7 1651.6,659.3 1657.4,661.0C1663.2,662.7 1668.9,664.1 1674.7,664.4C1680.5,664.7 1686.2,663.6 1692.0,662.7C1697.8,661.8 1703.5,660.9 1709.3,659.2C1715.1,657.5 1720.8,654.9 1726.6,652.3C1732.4,649.7 1738.1,646.5 1743.9,643.6C1749.7,640.7 1755.4,636.7 1761.2,635.0C1767.0,633.3 1771.8,632.4 1778.6,633.3C1785.4,634.2 1798.0,639.1 1801.9,640.2" stroke="#ff0000"/>
<path d="M1498.2,647.1C1500.2,647.7 1506.0,648.6 1510.3,650.6C1514.6,652.6 1520.5,656.6 1524.2,659.2C1528.0,661.8 1531.0,664.5 1532.8,666.1C1534.6,667.7 1534.6,668.5 1535.0,669.0" stroke="#ff0000"/>
<path d="M1801.9,647.1C1799.5,647.7 1791.7,648.0 1787.2,650.6C1782.7,653.2 1777.8,659.6 1775.1,662.7C1772.4,665.8 1771.7,668.0 1771.0,669.0" stroke="#ff0000"/>
<path d="M1635.0,669.0C1635.8,668.5 1636.4,666.4 1640.1,666.1C1643.8,665.9 1651.6,667.3 1657.4,667.5C1663.2,667.7 1670.9,667.2 1674.7,667.5C1678.5,667.8 1679.1,668.8 1680.0,669.0" stroke="#ff0000"/>
<path d="M1498.2,518.8C1500.2,517.6 1506.0,514.2 1510.3,511.9C1514.6,509.6 1519.3,506.9 1524.2,505.0C1529.1,503.1 1534.5,500.8 1539.7,500.7C1544.9,500.6 1550.1,502.2 1555.3,504.1C1560.5,506.0 1565.7,509.6 1570.9,511.9C1576.1,514.2 1581.0,516.7 1586.5,518.0C1592.0,519.3 1598.6,519.1 1603.8,519.7C1609.0,520.3 1613.0,520.2 1617.6,521.4C1622.2,522.5 1626.9,525.0 1631.5,526.6C1636.1,528.2 1640.7,530.3 1645.3,531.0C1649.9,531.7 1654.5,531.7 1659.1,531.0C1663.7,530.3 1668.4,528.2 1673.0,526.6C1677.6,525.0 1682.2,523.0 1686.8,521.4C1691.4,519.8 1695.5,518.7 1700.7,517.1C1705.9,515.5 1712.2,513.8 1718.0,511.9C1723.8,510.0 1730.1,507.5 1735.3,505.9C1740.5,504.3 1744.6,502.8 1749.2,502.4C1753.8,502.0 1758.4,502.0 1763.0,503.3C1767.6,504.6 1772.2,507.9 1776.8,510.2C1781.4,512.5 1786.5,515.5 1790.7,517.1C1794.9,518.7 1800.0,519.3 1801.9,519.7" stroke="#000000"/>
<path d="M1498.2,520.6C1500.8,521.2 1508.3,521.7 1513.8,524.0C1519.3,526.3 1525.3,530.6 1531.1,534.4C1536.9,538.1 1542.6,543.3 1548.4,546.5C1554.2,549.7 1559.9,551.2 1565.7,553.5C1571.5,555.8 1577.8,558.1 1583.0,560.4C1588.2,562.7 1592.2,565.9 1596.8,567.3C1601.4,568.7 1606.1,569.3 1610.7,569.0C1615.3,568.7 1619.9,567.6 1624.5,565.6C1629.1,563.6 1633.8,559.6 1638.4,556.9C1643.0,554.1 1648.2,550.7 1652.2,549.1C1656.2,547.5 1658.6,547.1 1662.6,547.4C1666.6,547.7 1671.8,549.4 1676.4,550.9C1681.0,552.4 1685.7,554.5 1690.3,556.1C1694.9,557.7 1699.5,559.2 1704.1,560.4C1708.7,561.5 1713.4,563.0 1718.0,563.0C1722.6,563.0 1727.2,562.3 1731.8,560.4C1736.4,558.5 1741.1,555.2 1745.7,551.7C1750.3,548.2 1754.9,543.4 1759.5,539.6C1764.1,535.9 1768.8,532.1 1773.4,529.2C1778.0,526.3 1782.5,523.9 1787.2,522.3C1792.0,520.7 1799.5,520.1 1801.9,519.7" stroke="#000000"/>
<path d="M1498.2,522.3C1499.6,523.4 1503.9,525.7 1506.8,529.2C1509.7,532.7 1513.2,538.0 1515.5,543.1C1517.8,548.2 1518.4,553.9 1520.7,560.0C1523.0,566.1 1526.4,574.9 1529.3,579.6C1532.2,584.3 1534.0,586.0 1538.0,588.3C1542.0,590.6 1548.1,591.5 1553.6,593.5C1559.1,595.5 1565.7,599.0 1570.9,600.4C1576.1,601.8 1580.4,602.4 1584.7,602.1C1589.0,601.8 1591.9,600.1 1596.8,598.7C1601.7,597.3 1609.8,594.4 1614.1,593.5C1618.4,592.6 1619.9,592.6 1622.8,593.5C1625.7,594.4 1628.0,596.1 1631.5,598.7C1635.0,601.3 1639.3,605.5 1643.6,609.0C1647.9,612.5 1652.2,616.5 1657.4,619.4C1662.6,622.3 1668.9,625.3 1674.7,626.3C1680.5,627.3 1686.2,626.6 1692.0,625.5C1697.8,624.4 1703.5,621.9 1709.3,619.4C1715.1,616.9 1720.8,614.0 1726.6,610.8C1732.4,607.6 1738.1,603.3 1743.9,600.4C1749.7,597.5 1755.4,595.4 1761.2,593.5C1767.0,591.6 1771.8,590.3 1778.6,589.1C1785.4,587.9 1798.0,586.9 1801.9,586.5" stroke="#000000"/>
<path d="M1801.9,522.3C1800.6,523.4 1796.5,526.0 1794.1,529.2C1791.6,532.4 1789.5,536.8 1787.2,541.3C1784.9,545.8 1782.6,550.9 1780.3,556.0C1778.0,561.1 1775.7,566.7 1773.4,572.0C1771.1,577.3 1768.7,583.3 1766.4,588.0C1764.1,592.7 1762.2,596.7 1759.5,600.4C1756.8,604.1 1751.6,608.4 1750.0,610.0" stroke="#000000"/>
<path d="M1498.2,586.5C1500.2,587.1 1506.3,588.3 1510.3,590.0C1514.3,591.7 1518.7,594.3 1522.4,596.9C1526.2,599.5 1529.0,603.3 1532.8,605.6C1536.5,607.9 1540.0,609.8 1544.9,610.8C1549.8,611.8 1556.4,611.9 1562.2,611.6C1568.0,611.3 1573.7,609.4 1579.5,609.0C1585.3,608.6 1591.3,609.0 1596.8,609.0C1602.3,609.0 1607.2,608.1 1612.4,609.0C1617.6,609.9 1622.8,612.2 1628.0,614.2C1633.2,616.2 1638.4,619.2 1643.6,621.2C1648.8,623.2 1653.6,625.1 1659.1,626.3C1664.6,627.4 1670.6,628.1 1676.4,628.1C1682.2,628.1 1688.0,627.4 1693.8,626.3C1699.6,625.1 1705.3,622.9 1711.1,621.2C1716.8,619.5 1722.5,617.3 1728.3,616.0C1734.1,614.7 1740.8,614.3 1745.7,613.4C1750.6,612.5 1753.8,612.7 1757.8,610.8C1761.8,608.9 1765.6,605.0 1769.9,602.1C1774.2,599.2 1778.5,595.4 1783.8,593.5C1789.1,591.6 1798.9,591.3 1801.9,590.9" stroke="#000000"/>
<path d="M1498.2,616.0C1501.1,615.9 1509.7,615.4 1515.5,615.1C1521.3,614.8 1528.2,613.5 1532.8,614.2C1537.4,614.9 1539.7,616.5 1543.2,619.4C1546.7,622.3 1550.4,629.5 1553.6,631.5C1556.8,633.5 1559.0,632.6 1562.2,631.5C1565.4,630.4 1569.1,626.6 1572.6,624.6C1576.1,622.6 1579.0,619.4 1583.0,619.4C1587.0,619.4 1591.9,623.0 1596.8,624.6C1601.7,626.2 1607.2,627.8 1612.4,628.9C1617.6,630.0 1622.8,630.2 1628.0,631.5C1633.2,632.8 1638.4,635.0 1643.6,636.7C1648.8,638.4 1653.6,640.9 1659.1,641.9C1664.6,642.9 1670.6,642.8 1676.4,642.8C1682.2,642.8 1688.0,642.6 1693.8,641.9C1699.6,641.2 1705.3,639.6 1711.1,638.5C1716.8,637.4 1722.5,635.9 1728.3,635.0C1734.1,634.1 1739.9,634.4 1745.7,633.3C1751.5,632.1 1757.2,630.4 1763.0,628.1C1768.8,625.8 1773.8,621.3 1780.3,619.4C1786.8,617.5 1798.3,617.2 1801.9,616.8" stroke="#000000"/>
<path d="M1498.2,618.5C1500.2,618.6 1506.5,618.4 1510.3,619.4C1514.0,620.4 1517.2,621.4 1520.7,624.6C1524.2,627.8 1527.6,633.9 1531.1,638.5C1534.6,643.1 1538.0,648.3 1541.5,652.3C1545.0,656.3 1548.3,660.4 1551.8,662.7C1555.2,665.0 1558.8,665.2 1562.2,666.1C1565.6,667.0 1570.4,667.7 1572.0,668.0" stroke="#000000"/>
<path d="M1498.2,650.6C1500.2,651.2 1506.0,652.6 1510.3,654.0C1514.6,655.4 1520.2,657.2 1524.2,659.2C1528.2,661.2 1532.4,664.5 1534.5,666.1C1536.6,667.7 1536.6,668.5 1537.0,669.0" stroke="#000000"/>
<path d="M1498.2,659.2C1500.2,659.5 1506.8,659.9 1510.3,661.0C1513.8,662.1 1517.2,664.8 1519.0,666.1C1520.8,667.4 1520.7,668.5 1521.0,669.0" stroke="#000000"/>
<path d="M1560.0,668.0C1561.0,667.7 1562.5,666.7 1565.7,666.1C1569.0,665.5 1574.9,666.1 1579.5,664.4C1584.1,662.7 1588.2,658.7 1593.4,655.8C1598.6,652.9 1605.5,648.0 1610.7,647.1C1615.9,646.2 1619.6,648.9 1624.5,650.6C1629.4,652.3 1634.6,655.8 1640.1,657.5C1645.6,659.2 1651.6,660.6 1657.4,661.0C1663.2,661.4 1668.9,660.7 1674.7,660.1C1680.5,659.5 1686.2,658.2 1692.0,657.5C1697.8,656.8 1703.5,656.7 1709.3,655.8C1715.1,654.9 1720.8,653.8 1726.6,652.3C1732.4,650.8 1738.1,649.4 1743.9,647.1C1749.7,644.8 1755.4,642.0 1761.2,638.5C1767.0,635.0 1771.8,629.5 1778.6,626.3C1785.4,623.1 1798.0,620.5 1801.9,619.4" stroke="#000000"/>
<path d="M1745.0,669.0C1745.7,668.5 1746.2,668.3 1749.2,666.1C1752.2,663.9 1758.1,658.4 1763.0,655.8C1767.9,653.2 1772.1,651.6 1778.6,650.6C1785.1,649.6 1798.0,649.9 1801.9,649.7" stroke="#000000"/>
<path d="M1766.0,669.0C1766.7,668.5 1766.9,667.7 1769.9,666.1C1772.9,664.5 1778.5,660.6 1783.8,659.2C1789.1,657.8 1798.9,657.8 1801.9,657.5" stroke="#000000"/>
</g>
<rect x="78.7" y="78.4" width="330.5" height="593.0" fill="none" stroke="#000" stroke-width="3.5" stroke-linejoin="round"/>
<line x1="68.0" y1="78.4" x2="78.7" y2="78.4" stroke="#000" stroke-width="3.3" stroke-linecap="round"/>
<line x1="73.5" y1="152.5" x2="78.7" y2="152.5" stroke="#000" stroke-width="3.3" stroke-linecap="round"/>
<line x1="68.0" y1="226.7" x2="78.7" y2="226.7" stroke="#000" stroke-width="3.3" stroke-linecap="round"/>
<line x1="73.5" y1="300.8" x2="78.7" y2="300.8" stroke="#000" stroke-width="3.3" stroke-linecap="round"/>
<line x1="68.0" y1="374.9" x2="78.7" y2="374.9" stroke="#000" stroke-width="3.3" stroke-linecap="round"/>
<line x1="73.5" y1="449.0" x2="78.7" y2="449.0" stroke="#000" stroke-width="3.3" stroke-linecap="round"/>
<line x1="68.0" y1="523.1" x2="78.7" y2="523.1" stroke="#000" stroke-width="3.3" stroke-linecap="round"/>
<line x1="73.5" y1="597.3" x2="78.7" y2="597.3" stroke="#000" stroke-width="3.3" stroke-linecap="round"/>
<line x1="68.0" y1="671.4" x2="78.7" y2="671.4" stroke="#000" stroke-width="3.3" stroke-linecap="round"/>
<rect x="432.0" y="77.0" width="303.4" height="593.2" fill="none" stroke="#000" stroke-width="3.5" stroke-linejoin="round"/>
<line x1="421.3" y1="77.0" x2="432.0" y2="77.0" stroke="#000" stroke-width="3.3" stroke-linecap="round"/>
<line x1="426.8" y1="151.2" x2="432.0" y2="151.2" stroke="#000" stroke-width="3.3" stroke-linecap="round"/>
<line x1="421.3" y1="225.3" x2="432.0" y2="225.3" stroke="#000" stroke-width="3.3" stroke-linecap="round"/>
<line x1="426.8" y1="299.5" x2="432.0" y2="299.5" stroke="#000" stroke-width="3.3" stroke-linecap="round"/>
<line x1="421.3" y1="373.6" x2="432.0" y2="373.6" stroke="#000" stroke-width="3.3" stroke-linecap="round"/>
<line x1="426.8" y1="447.8" x2="432.0" y2="447.8" stroke="#000" stroke-width="3.3" stroke-linecap="round"/>
<line x1="421.3" y1="521.9" x2="432.0" y2="521.9" stroke="#000" stroke-width="3.3" stroke-linecap="round"/>
<line x1="426.8" y1="596.1" x2="432.0" y2="596.1" stroke="#000" stroke-width="3.3" stroke-linecap="round"/>
<line x1="421.3" y1="670.2" x2="432.0" y2="670.2" stroke="#000" stroke-width="3.3" stroke-linecap="round"/>
<rect x="776.0" y="77.7" width="335.8" height="593.0" fill="none" stroke="#000" stroke-width="3.5" stroke-linejoin="round"/>
<line x1="765.3" y1="77.7" x2="776.0" y2="77.7" stroke="#000" stroke-width="3.3" stroke-linecap="round"/>
<line x1="770.8" y1="151.8" x2="776.0" y2="151.8" stroke="#000" stroke-width="3.3" stroke-linecap="round"/>
<line x1="765.3" y1="225.9" x2="776.0" y2="225.9" stroke="#000" stroke-width="3.3" stroke-linecap="round"/>
<line x1="770.8" y1="300.1" x2="776.0" y2="300.1" stroke="#000" stroke-width="3.3" stroke-linecap="round"/>
<line x1="765.3" y1="374.2" x2="776.0" y2="374.2" stroke="#000" stroke-width="3.3" stroke-linecap="round"/>
<line x1="770.8" y1="448.3" x2="776.0" y2="448.3" stroke="#000" stroke-width="3.3" stroke-linecap="round"/>
<line x1="765.3" y1="522.5" x2="776.0" y2="522.5" stroke="#000" stroke-width="3.3" stroke-linecap="round"/>
<line x1="770.8" y1="596.6" x2="776.0" y2="596.6" stroke="#000" stroke-width="3.3" stroke-linecap="round"/>
<line x1="765.3" y1="670.7" x2="776.0" y2="670.7" stroke="#000" stroke-width="3.3" stroke-linecap="round"/>
<rect x="1139.3" y="79.5" width="332.5" height="592.6" fill="none" stroke="#000" stroke-width="3.5" stroke-linejoin="round"/>
<line x1="1128.6" y1="79.5" x2="1139.3" y2="79.5" stroke="#000" stroke-width="3.3" stroke-linecap="round"/>
<line x1="1134.1" y1="153.6" x2="1139.3" y2="153.6" stroke="#000" stroke-width="3.3" stroke-linecap="round"/>
<line x1="1128.6" y1="227.7" x2="1139.3" y2="227.7" stroke="#000" stroke-width="3.3" stroke-linecap="round"/>
<line x1="1134.1" y1="301.7" x2="1139.3" y2="301.7" stroke="#000" stroke-width="3.3" stroke-linecap="round"/>
<line x1="1128.6" y1="375.8" x2="1139.3" y2="375.8" stroke="#000" stroke-width="3.3" stroke-linecap="round"/>
<line x1="1134.1" y1="449.9" x2="1139.3" y2="449.9" stroke="#000" stroke-width="3.3" stroke-linecap="round"/>
<line x1="1128.6" y1="524.0" x2="1139.3" y2="524.0" stroke="#000" stroke-width="3.3" stroke-linecap="round"/>
<line x1="1134.1" y1="598.0" x2="1139.3" y2="598.0" stroke="#000" stroke-width="3.3" stroke-linecap="round"/>
<line x1="1128.6" y1="672.1" x2="1139.3" y2="672.1" stroke="#000" stroke-width="3.3" stroke-linecap="round"/>
<rect x="1497.3" y="77.4" width="305.3" height="591.1" fill="none" stroke="#000" stroke-width="3.5" stroke-linejoin="round"/>
<line x1="1486.6" y1="77.4" x2="1497.3" y2="77.4" stroke="#000" stroke-width="3.3" stroke-linecap="round"/>
<line x1="1492.1" y1="151.3" x2="1497.3" y2="151.3" stroke="#000" stroke-width="3.3" stroke-linecap="round"/>
<line x1="1486.6" y1="225.2" x2="1497.3" y2="225.2" stroke="#000" stroke-width="3.3" stroke-linecap="round"/>
<line x1="1492.1" y1="299.1" x2="1497.3" y2="299.1" stroke="#000" stroke-width="3.3" stroke-linecap="round"/>
<line x1="1486.6" y1="373.0" x2="1497.3" y2="373.0" stroke="#000" stroke-width="3.3" stroke-linecap="round"/>
<line x1="1492.1" y1="446.8" x2="1497.3" y2="446.8" stroke="#000" stroke-width="3.3" stroke-linecap="round"/>
<line x1="1486.6" y1="520.7" x2="1497.3" y2="520.7" stroke="#000" stroke-width="3.3" stroke-linecap="round"/>
<line x1="1492.1" y1="594.6" x2="1497.3" y2="594.6" stroke="#000" stroke-width="3.3" stroke-linecap="round"/>
<line x1="1486.6" y1="668.5" x2="1497.3" y2="668.5" stroke="#000" stroke-width="3.3" stroke-linecap="round"/>
<line x1="77.7" y1="430.4" x2="311.7" y2="331.7" stroke="#8000ff" stroke-width="5" stroke-linecap="round"/><polygon points="336.6,321.2 313.3,340.5 306.5,324.4" fill="#8000ff" stroke="#8000ff" stroke-width="2" stroke-linejoin="round"/>
<line x1="433.7" y1="490.0" x2="656.0" y2="272.5" stroke="#8000ff" stroke-width="5" stroke-linecap="round"/><polygon points="675.3,253.6 660.7,280.1 648.5,267.6" fill="#8000ff" stroke="#8000ff" stroke-width="2" stroke-linejoin="round"/>
<line x1="782.8" y1="508.5" x2="783.3" y2="264.8" stroke="#8000ff" stroke-width="5" stroke-linecap="round"/><polygon points="783.3,237.8 792.0,266.8 774.5,266.8" fill="#8000ff" stroke="#8000ff" stroke-width="2" stroke-linejoin="round"/>
<line x1="1146.6" y1="505.0" x2="1146.8" y2="241.4" stroke="#8000ff" stroke-width="5" stroke-linecap="round"/><polygon points="1146.8,214.4 1155.5,243.4 1138.0,243.4" fill="#8000ff" stroke="#8000ff" stroke-width="2" stroke-linejoin="round"/>
<line x1="1543.9" y1="504.7" x2="1680.7" y2="228.0" stroke="#8000ff" stroke-width="5" stroke-linecap="round"/><polygon points="1692.7,203.8 1687.7,233.7 1672.0,225.9" fill="#8000ff" stroke="#8000ff" stroke-width="2" stroke-linejoin="round"/>
<line x1="507" y1="27.9" x2="623" y2="27.9" stroke="#000" stroke-width="4.6" stroke-linecap="round"/>
<line x1="858" y1="27.6" x2="973" y2="27.6" stroke="#ff0000" stroke-width="4.4" stroke-linecap="round"/>
<text x="636" y="43.6" font-size="51.7" font-weight="normal" text-anchor="start" >With PBE</text>
<text x="986.8" y="45.0" font-size="51.9" font-weight="normal" text-anchor="start" >With PBE+SOC</text>
<text x="889.4" y="770" font-size="49.5" font-weight="normal" text-anchor="start" >K Path</text>
<text x="65.8" y="89.2" font-size="36" font-weight="bold" text-anchor="end" >1.0</text>
<text x="65.8" y="237.45000000000002" font-size="36" font-weight="bold" text-anchor="end" >0.5</text>
<text x="65.8" y="385.7" font-size="36" font-weight="bold" text-anchor="end" >0.0</text>
<text x="65.8" y="533.9499999999999" font-size="36" font-weight="bold" text-anchor="end" >-0.5</text>
<text x="65.8" y="682.1999999999999" font-size="36" font-weight="bold" text-anchor="end" >-1.0</text>
<text x="72.5" y="698.6" font-size="28" font-weight="normal" text-anchor="start" >Γ</text>
<text x="397.5" y="698.6" font-size="28" font-weight="normal" text-anchor="start" >Γ</text>
<text x="186.8" y="699" font-size="30" font-weight="bold" text-anchor="start" >M</text>
<text x="267.2" y="699" font-size="30" font-weight="bold" text-anchor="start" >K</text>
<text x="430.3" y="699.7" font-size="28" font-weight="normal" text-anchor="start" >Γ</text>
<text x="724.5" y="703.2" font-size="28" font-weight="normal" text-anchor="start" >Γ</text>
<text x="539.3" y="701.5" font-size="30" font-weight="bold" text-anchor="start" >M</text>
<text x="609.8" y="701.5" font-size="30" font-weight="bold" text-anchor="start" >K</text>
<text x="772.3" y="702.8" font-size="28" font-weight="normal" text-anchor="start" >Γ</text>
<text x="1098.0" y="703.2" font-size="28" font-weight="normal" text-anchor="start" >Γ</text>
<text x="887.0" y="704.5" font-size="30" font-weight="bold" text-anchor="start" >M</text>
<text x="970.6" y="704.5" font-size="30" font-weight="bold" text-anchor="start" >K</text>
<text x="1135.7" y="704.7" font-size="28" font-weight="normal" text-anchor="start" >Γ</text>
<text x="1461.8" y="705.1" font-size="28" font-weight="normal" text-anchor="start" >Γ</text>
<text x="1263.3" y="706.5" font-size="30" font-weight="bold" text-anchor="start" >M</text>
<text x="1330.7" y="706.5" font-size="30" font-weight="bold" text-anchor="start" >K</text>
<text x="1490.7" y="705.9" font-size="28" font-weight="normal" text-anchor="start" >Γ</text>
<text x="1794.8" y="703.4" font-size="28" font-weight="normal" text-anchor="start" >Γ</text>
<text x="1599.7" y="704.5" font-size="30" font-weight="bold" text-anchor="start" >M</text>
<text x="1670.2" y="704.5" font-size="30" font-weight="bold" text-anchor="start" >K</text>
<text x="138.60000000000002" y="112.3" font-size="33.6" font-weight="bold" text-anchor="start" >-6%</text>
<text x="488.8" y="115.69999999999999" font-size="33.6" font-weight="bold" text-anchor="start" >-2%</text>
<text x="858.6999999999999" y="112.8" font-size="33.6" font-weight="bold" text-anchor="start" >0%</text>
<text x="1208.7" y="113.8" font-size="33.6" font-weight="bold" text-anchor="start" >+2%</text>
<text x="1548.1" y="111.19999999999999" font-size="33.6" font-weight="bold" text-anchor="start" >+6%</text>
<text x="167.29999999999998" y="419.7" font-size="36" font-weight="bold" text-anchor="start" >0.361 eV</text>
<text x="587.8000000000001" y="363.2" font-size="36" font-weight="bold" text-anchor="start" >0.778 eV</text>
<text x="790.8000000000001" y="363.5" font-size="36" font-weight="bold" text-anchor="start" >0.898 eV</text>
<text x="1151.6999999999998" y="364.4" font-size="36" font-weight="bold" text-anchor="start" >0.982 eV</text>
<text x="1635.5" y="362.1" font-size="36" font-weight="bold" text-anchor="start" >1.019 eV</text>
<text x="214.1" y="486" font-size="35.6" font-weight="bold" text-anchor="start" >FM</text>
<text x="550.9" y="485.8" font-size="35.6" font-weight="bold" text-anchor="start" >AFM</text>
<text x="909.3" y="486" font-size="35.6" font-weight="bold" text-anchor="start" >AFM</text>
<text x="1272.7" y="486.4" font-size="35.6" font-weight="bold" text-anchor="start" >AFM</text>
<text x="1609.8000000000002" y="486" font-size="35.6" font-weight="bold" text-anchor="start" >AFM</text>
</svg></body></html>
